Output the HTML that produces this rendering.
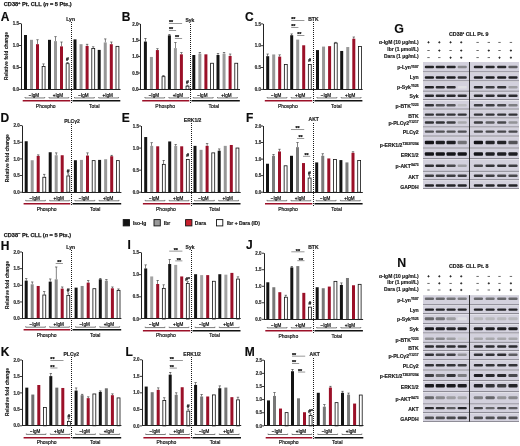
<!DOCTYPE html>
<html><head><meta charset="utf-8"><style>html,body{margin:0;padding:0;background:#fff;width:520px;height:446px;overflow:hidden}svg{display:block}</style></head>
<body>
<svg width="520" height="446" viewBox="0 0 520 446" font-family="'Liberation Sans', Arial, sans-serif">
<rect width="520" height="446" fill="white"/>
<text x="3.80" y="6.30" font-size="5.6" text-anchor="start" font-weight="bold" fill="#161616" stroke="#161616" stroke-width="0.25">CD38<tspan font-size="4.2" dy="-1.9">+</tspan><tspan dy="1.9"> Pt. CLL (</tspan><tspan font-style="italic">n</tspan> = 5 Pts.)</text>
<text x="3.80" y="236.70" font-size="5.55" text-anchor="start" font-weight="bold" fill="#161616" stroke="#161616" stroke-width="0.25">CD38<tspan font-size="4.2" dy="-1.9">&#8722;</tspan><tspan dy="1.9"> Pt. CLL (</tspan><tspan font-style="italic">n</tspan> = 5 Pts.)</text>
<text x="0.70" y="21.20" font-size="12.0" text-anchor="start" font-weight="bold" fill="#0c0c0c" stroke="#0c0c0c" stroke-width="0.15">A</text>
<rect x="21" y="23.60" width="1" height="66.40" fill="#222"/>
<rect x="19" y="88.90" width="2" height="0.9" fill="#222"/>
<text x="18.90" y="90.95" font-size="4.5" text-anchor="end" font-weight="bold" fill="#2a2a2a"  stroke="#2a2a2a" stroke-width="0.18">0.0</text>
<rect x="19" y="66.98" width="2" height="0.9" fill="#222"/>
<text x="18.90" y="69.03" font-size="4.5" text-anchor="end" font-weight="bold" fill="#2a2a2a"  stroke="#2a2a2a" stroke-width="0.18">0.5</text>
<rect x="19" y="45.07" width="2" height="0.9" fill="#222"/>
<text x="18.90" y="47.12" font-size="4.5" text-anchor="end" font-weight="bold" fill="#2a2a2a"  stroke="#2a2a2a" stroke-width="0.18">1.0</text>
<rect x="19" y="23.15" width="2" height="0.9" fill="#222"/>
<text x="18.90" y="25.20" font-size="4.5" text-anchor="end" font-weight="bold" fill="#2a2a2a"  stroke="#2a2a2a" stroke-width="0.18">1.5</text>
<text x="0" y="0" font-size="4.95" font-weight="bold" text-anchor="middle" fill="#1a1a1a" stroke="#1a1a1a" stroke-width="0.12" transform="translate(7.60,56.10) rotate(-90)">Relative fold change</text>
<rect x="24.00" y="35.00" width="3.00" height="54.35" fill="#141414"/>
<rect x="30.00" y="39.82" width="3.00" height="49.53" fill="#979797"/>
<rect x="37.20" y="39.82" width="0.6" height="4.38" fill="#333"/>
<rect x="36.30" y="39.52" width="2.40" height="0.6" fill="#333"/>
<rect x="36.00" y="44.20" width="3.00" height="45.15" fill="#9b1028"/>
<rect x="43.20" y="63.93" width="0.6" height="2.19" fill="#333"/>
<rect x="42.30" y="63.63" width="2.40" height="0.6" fill="#333"/>
<rect x="42.15" y="66.52" width="2.90" height="22.83" fill="white" stroke="#111" stroke-width="0.8"/>
<rect x="48.00" y="39.82" width="3.00" height="49.53" fill="#141414"/>
<rect x="55.20" y="36.75" width="0.6" height="4.38" fill="#333"/>
<rect x="54.30" y="36.45" width="2.40" height="0.6" fill="#333"/>
<rect x="54.00" y="41.13" width="3.00" height="48.22" fill="#979797"/>
<rect x="61.20" y="42.01" width="0.6" height="4.38" fill="#333"/>
<rect x="60.30" y="41.71" width="2.40" height="0.6" fill="#333"/>
<rect x="60.00" y="46.39" width="3.00" height="42.96" fill="#9b1028"/>
<rect x="67.20" y="62.39" width="0.6" height="0.88" fill="#333"/>
<rect x="66.30" y="62.09" width="2.40" height="0.6" fill="#333"/>
<rect x="66.15" y="63.67" width="2.90" height="25.68" fill="white" stroke="#111" stroke-width="0.8"/>
<rect x="73.50" y="39.38" width="3.00" height="49.97" fill="#141414"/>
<rect x="79.55" y="44.20" width="3.00" height="45.15" fill="#979797"/>
<rect x="86.80" y="44.20" width="0.6" height="1.75" fill="#333"/>
<rect x="85.90" y="43.90" width="2.40" height="0.6" fill="#333"/>
<rect x="85.60" y="45.95" width="3.00" height="43.40" fill="#9b1028"/>
<rect x="92.85" y="46.83" width="0.6" height="1.32" fill="#333"/>
<rect x="91.95" y="46.53" width="2.40" height="0.6" fill="#333"/>
<rect x="91.80" y="48.55" width="2.90" height="40.80" fill="white" stroke="#111" stroke-width="0.8"/>
<rect x="97.70" y="49.90" width="3.00" height="39.45" fill="#141414"/>
<rect x="104.95" y="38.94" width="0.6" height="3.51" fill="#333"/>
<rect x="104.05" y="38.64" width="2.40" height="0.6" fill="#333"/>
<rect x="103.75" y="42.45" width="3.00" height="46.90" fill="#979797"/>
<rect x="111.00" y="42.01" width="0.6" height="2.19" fill="#333"/>
<rect x="110.10" y="41.71" width="2.40" height="0.6" fill="#333"/>
<rect x="109.80" y="44.20" width="3.00" height="45.15" fill="#9b1028"/>
<rect x="116.00" y="46.35" width="2.90" height="43.00" fill="white" stroke="#111" stroke-width="0.8"/>
<rect x="21" y="89" width="99.50" height="1" fill="#222"/>
<line x1="71.50" y1="22" x2="71.50" y2="103" stroke="#1a1a1a" stroke-width="1" stroke-dasharray="1,1"/>
<text x="70.60" y="20.70" font-size="5.0" text-anchor="middle" font-weight="bold" fill="#1e1e1e"  stroke="#1e1e1e" stroke-width="0.18">Lyn</text>
<text x="33.95" y="96.65" font-size="4.6" text-anchor="middle" font-weight="normal" fill="#0a0a0a"  stroke="#0a0a0a" stroke-width="0.18">&#8722;IgM</text>
<path d="M25.00,97.05 L25.00,97.95 L44.70,97.95 L44.70,97.05" fill="none" stroke="#444" stroke-width="0.7"/>
<text x="57.95" y="96.65" font-size="4.6" text-anchor="middle" font-weight="normal" fill="#0a0a0a"  stroke="#0a0a0a" stroke-width="0.18">+IgM</text>
<path d="M49.00,97.05 L49.00,97.95 L68.70,97.95 L68.70,97.05" fill="none" stroke="#444" stroke-width="0.7"/>
<text x="83.53" y="96.65" font-size="4.6" text-anchor="middle" font-weight="normal" fill="#0a0a0a"  stroke="#0a0a0a" stroke-width="0.18">&#8722;IgM</text>
<path d="M74.50,97.05 L74.50,97.95 L94.35,97.95 L94.35,97.05" fill="none" stroke="#444" stroke-width="0.7"/>
<text x="107.72" y="96.65" font-size="4.6" text-anchor="middle" font-weight="normal" fill="#0a0a0a"  stroke="#0a0a0a" stroke-width="0.18">+IgM</text>
<path d="M98.70,97.05 L98.70,97.95 L118.55,97.95 L118.55,97.05" fill="none" stroke="#444" stroke-width="0.7"/>
<rect x="22.70" y="100" width="47.60" height="1.5" fill="#9b1028"/>
<text x="45.70" y="107.65" font-size="5.0" text-anchor="middle" font-weight="normal" fill="#161616"  stroke="#161616" stroke-width="0.18">Phospho</text>
<rect x="72.50" y="100" width="47.80" height="1.5" fill="#111"/>
<text x="94.30" y="107.65" font-size="5.0" text-anchor="middle" font-weight="normal" fill="#161616"  stroke="#161616" stroke-width="0.18">Total</text>
<text x="67.50" y="61.37" font-size="5.0" text-anchor="middle" font-weight="bold" fill="#111"  stroke="#111" stroke-width="0.18">#</text>
<text x="121.80" y="21.00" font-size="12.0" text-anchor="start" font-weight="bold" fill="#0c0c0c" stroke="#0c0c0c" stroke-width="0.15">B</text>
<rect x="140" y="23.90" width="1" height="66.10" fill="#222"/>
<rect x="138" y="88.90" width="2" height="0.9" fill="#222"/>
<text x="138.40" y="90.95" font-size="4.5" text-anchor="end" font-weight="bold" fill="#2a2a2a"  stroke="#2a2a2a" stroke-width="0.18">0.0</text>
<rect x="138" y="72.54" width="2" height="0.9" fill="#222"/>
<text x="138.40" y="74.59" font-size="4.5" text-anchor="end" font-weight="bold" fill="#2a2a2a"  stroke="#2a2a2a" stroke-width="0.18">0.5</text>
<rect x="138" y="56.17" width="2" height="0.9" fill="#222"/>
<text x="138.40" y="58.23" font-size="4.5" text-anchor="end" font-weight="bold" fill="#2a2a2a"  stroke="#2a2a2a" stroke-width="0.18">1.0</text>
<rect x="138" y="39.81" width="2" height="0.9" fill="#222"/>
<text x="138.40" y="41.86" font-size="4.5" text-anchor="end" font-weight="bold" fill="#2a2a2a"  stroke="#2a2a2a" stroke-width="0.18">1.5</text>
<rect x="138" y="23.45" width="2" height="0.9" fill="#222"/>
<text x="138.40" y="25.50" font-size="4.5" text-anchor="end" font-weight="bold" fill="#2a2a2a"  stroke="#2a2a2a" stroke-width="0.18">2.0</text>
<rect x="145.10" y="38.30" width="0.6" height="3.27" fill="#333"/>
<rect x="144.20" y="38.00" width="2.40" height="0.6" fill="#333"/>
<rect x="143.90" y="41.57" width="3.00" height="47.78" fill="#141414"/>
<rect x="149.90" y="56.95" width="3.00" height="32.40" fill="#9a9a9a"/>
<rect x="157.10" y="48.77" width="0.6" height="1.31" fill="#333"/>
<rect x="156.20" y="48.47" width="2.40" height="0.6" fill="#333"/>
<rect x="155.90" y="50.08" width="3.00" height="39.27" fill="#9b1028"/>
<rect x="163.10" y="75.61" width="0.6" height="0.65" fill="#333"/>
<rect x="162.20" y="75.31" width="2.40" height="0.6" fill="#333"/>
<rect x="162.05" y="76.66" width="2.90" height="12.69" fill="white" stroke="#111" stroke-width="0.8"/>
<rect x="169.10" y="34.37" width="0.6" height="0.98" fill="#333"/>
<rect x="168.20" y="34.07" width="2.40" height="0.6" fill="#333"/>
<rect x="167.90" y="35.35" width="3.00" height="54.00" fill="#141414"/>
<rect x="175.10" y="42.55" width="0.6" height="5.56" fill="#333"/>
<rect x="174.20" y="42.25" width="2.40" height="0.6" fill="#333"/>
<rect x="173.90" y="48.12" width="3.00" height="41.23" fill="#9a9a9a"/>
<rect x="181.10" y="52.70" width="0.6" height="1.64" fill="#333"/>
<rect x="180.20" y="52.40" width="2.40" height="0.6" fill="#333"/>
<rect x="179.90" y="54.33" width="3.00" height="35.02" fill="#9b1028"/>
<rect x="187.10" y="85.10" width="0.6" height="0.65" fill="#333"/>
<rect x="186.20" y="84.80" width="2.40" height="0.6" fill="#333"/>
<rect x="186.05" y="86.15" width="2.90" height="3.20" fill="white" stroke="#111" stroke-width="0.8"/>
<rect x="192.30" y="54.99" width="3.00" height="34.36" fill="#141414"/>
<rect x="199.55" y="52.37" width="0.6" height="1.31" fill="#333"/>
<rect x="198.65" y="52.07" width="2.40" height="0.6" fill="#333"/>
<rect x="198.35" y="53.68" width="3.00" height="35.67" fill="#9a9a9a"/>
<rect x="204.40" y="54.33" width="3.00" height="35.02" fill="#9b1028"/>
<rect x="210.60" y="63.24" width="2.90" height="26.11" fill="white" stroke="#111" stroke-width="0.8"/>
<rect x="217.70" y="53.35" width="0.6" height="1.64" fill="#333"/>
<rect x="216.80" y="53.05" width="2.40" height="0.6" fill="#333"/>
<rect x="216.50" y="54.99" width="3.00" height="34.36" fill="#141414"/>
<rect x="223.75" y="52.37" width="0.6" height="1.31" fill="#333"/>
<rect x="222.85" y="52.07" width="2.40" height="0.6" fill="#333"/>
<rect x="222.55" y="53.68" width="3.00" height="35.67" fill="#9a9a9a"/>
<rect x="229.80" y="54.01" width="0.6" height="1.96" fill="#333"/>
<rect x="228.90" y="53.71" width="2.40" height="0.6" fill="#333"/>
<rect x="228.60" y="55.97" width="3.00" height="33.38" fill="#9b1028"/>
<rect x="234.80" y="63.24" width="2.90" height="26.11" fill="white" stroke="#111" stroke-width="0.8"/>
<rect x="140" y="89" width="100.00" height="1" fill="#222"/>
<line x1="190.50" y1="24" x2="190.50" y2="103" stroke="#1a1a1a" stroke-width="1" stroke-dasharray="1,1"/>
<text x="189.90" y="22.00" font-size="5.0" text-anchor="middle" font-weight="bold" fill="#1e1e1e"  stroke="#1e1e1e" stroke-width="0.18">Syk</text>
<text x="153.85" y="96.65" font-size="4.6" text-anchor="middle" font-weight="normal" fill="#0a0a0a"  stroke="#0a0a0a" stroke-width="0.18">&#8722;IgM</text>
<path d="M144.90,97.05 L144.90,97.95 L164.60,97.95 L164.60,97.05" fill="none" stroke="#444" stroke-width="0.7"/>
<text x="177.85" y="96.65" font-size="4.6" text-anchor="middle" font-weight="normal" fill="#0a0a0a"  stroke="#0a0a0a" stroke-width="0.18">+IgM</text>
<path d="M168.90,97.05 L168.90,97.95 L188.60,97.95 L188.60,97.05" fill="none" stroke="#444" stroke-width="0.7"/>
<text x="202.33" y="96.65" font-size="4.6" text-anchor="middle" font-weight="normal" fill="#0a0a0a"  stroke="#0a0a0a" stroke-width="0.18">&#8722;IgM</text>
<path d="M193.30,97.05 L193.30,97.95 L213.15,97.95 L213.15,97.05" fill="none" stroke="#444" stroke-width="0.7"/>
<text x="226.53" y="96.65" font-size="4.6" text-anchor="middle" font-weight="normal" fill="#0a0a0a"  stroke="#0a0a0a" stroke-width="0.18">+IgM</text>
<path d="M217.50,97.05 L217.50,97.95 L237.35,97.95 L237.35,97.05" fill="none" stroke="#444" stroke-width="0.7"/>
<rect x="142.20" y="100" width="47.10" height="1.5" fill="#9b1028"/>
<text x="165.20" y="107.65" font-size="5.0" text-anchor="middle" font-weight="normal" fill="#161616"  stroke="#161616" stroke-width="0.18">Phospho</text>
<rect x="191.50" y="100" width="48.30" height="1.5" fill="#111"/>
<text x="213.80" y="107.65" font-size="5.0" text-anchor="middle" font-weight="normal" fill="#161616"  stroke="#161616" stroke-width="0.18">Total</text>
<rect x="168.90" y="23.27" width="13.20" height="0.6" fill="#555"/>
<text x="168.90" y="24.27" font-size="5.4" text-anchor="start" font-weight="bold" fill="#000"  stroke="#000" stroke-width="0.18">**</text>
<rect x="168.90" y="30.14" width="7.20" height="0.6" fill="#555"/>
<text x="168.90" y="31.14" font-size="5.4" text-anchor="start" font-weight="bold" fill="#000"  stroke="#000" stroke-width="0.18">**</text>
<rect x="174.90" y="38.13" width="7.20" height="0.6" fill="#555"/>
<text x="174.90" y="39.13" font-size="5.4" text-anchor="start" font-weight="bold" fill="#000"  stroke="#000" stroke-width="0.18">**</text>
<text x="187.40" y="83.85" font-size="5.0" text-anchor="middle" font-weight="bold" fill="#111"  stroke="#111" stroke-width="0.18">#</text>
<text x="245.00" y="21.20" font-size="12.0" text-anchor="start" font-weight="bold" fill="#0c0c0c" stroke="#0c0c0c" stroke-width="0.15">C</text>
<rect x="263" y="23.90" width="1" height="66.10" fill="#222"/>
<rect x="261" y="88.90" width="2" height="0.9" fill="#222"/>
<text x="261.00" y="90.95" font-size="4.5" text-anchor="end" font-weight="bold" fill="#2a2a2a"  stroke="#2a2a2a" stroke-width="0.18">0.0</text>
<rect x="261" y="67.08" width="2" height="0.9" fill="#222"/>
<text x="261.00" y="69.13" font-size="4.5" text-anchor="end" font-weight="bold" fill="#2a2a2a"  stroke="#2a2a2a" stroke-width="0.18">0.5</text>
<rect x="261" y="45.27" width="2" height="0.9" fill="#222"/>
<text x="261.00" y="47.32" font-size="4.5" text-anchor="end" font-weight="bold" fill="#2a2a2a"  stroke="#2a2a2a" stroke-width="0.18">1.0</text>
<rect x="261" y="23.45" width="2" height="0.9" fill="#222"/>
<text x="261.00" y="25.50" font-size="4.5" text-anchor="end" font-weight="bold" fill="#2a2a2a"  stroke="#2a2a2a" stroke-width="0.18">1.5</text>
<rect x="267.40" y="54.01" width="0.6" height="2.18" fill="#333"/>
<rect x="266.50" y="53.71" width="2.40" height="0.6" fill="#333"/>
<rect x="266.20" y="56.19" width="3.00" height="33.16" fill="#141414"/>
<rect x="272.20" y="54.44" width="3.00" height="34.91" fill="#989898"/>
<rect x="279.40" y="54.88" width="0.6" height="1.75" fill="#333"/>
<rect x="278.50" y="54.58" width="2.40" height="0.6" fill="#333"/>
<rect x="278.20" y="56.62" width="3.00" height="32.72" fill="#9b1028"/>
<rect x="284.35" y="64.44" width="2.90" height="24.91" fill="white" stroke="#111" stroke-width="0.8"/>
<rect x="291.40" y="33.94" width="0.6" height="1.31" fill="#333"/>
<rect x="290.50" y="33.64" width="2.40" height="0.6" fill="#333"/>
<rect x="290.20" y="35.24" width="3.00" height="54.11" fill="#141414"/>
<rect x="296.20" y="39.61" width="3.00" height="49.74" fill="#989898"/>
<rect x="302.20" y="45.28" width="3.00" height="44.07" fill="#9b1028"/>
<rect x="308.35" y="64.44" width="2.90" height="24.91" fill="white" stroke="#111" stroke-width="0.8"/>
<rect x="316.00" y="50.08" width="3.00" height="39.27" fill="#141414"/>
<rect x="322.05" y="46.59" width="3.00" height="42.76" fill="#989898"/>
<rect x="328.10" y="46.15" width="3.00" height="43.20" fill="#9b1028"/>
<rect x="335.35" y="42.23" width="0.6" height="0.44" fill="#333"/>
<rect x="334.45" y="41.93" width="2.40" height="0.6" fill="#333"/>
<rect x="334.30" y="43.06" width="2.90" height="46.29" fill="white" stroke="#111" stroke-width="0.8"/>
<rect x="340.20" y="50.95" width="3.00" height="38.40" fill="#141414"/>
<rect x="346.25" y="47.03" width="3.00" height="42.32" fill="#989898"/>
<rect x="353.50" y="36.99" width="0.6" height="1.75" fill="#333"/>
<rect x="352.60" y="36.69" width="2.40" height="0.6" fill="#333"/>
<rect x="352.30" y="38.74" width="3.00" height="50.61" fill="#9b1028"/>
<rect x="358.50" y="46.55" width="2.90" height="42.80" fill="white" stroke="#111" stroke-width="0.8"/>
<rect x="263" y="89" width="99.60" height="1" fill="#222"/>
<line x1="313.50" y1="22" x2="313.50" y2="103" stroke="#1a1a1a" stroke-width="1" stroke-dasharray="1,1"/>
<text x="313.40" y="20.70" font-size="5.0" text-anchor="middle" font-weight="bold" fill="#1e1e1e"  stroke="#1e1e1e" stroke-width="0.18">BTK</text>
<text x="276.15" y="96.65" font-size="4.6" text-anchor="middle" font-weight="normal" fill="#0a0a0a"  stroke="#0a0a0a" stroke-width="0.18">&#8722;IgM</text>
<path d="M267.20,97.05 L267.20,97.95 L286.90,97.95 L286.90,97.05" fill="none" stroke="#444" stroke-width="0.7"/>
<text x="300.15" y="96.65" font-size="4.6" text-anchor="middle" font-weight="normal" fill="#0a0a0a"  stroke="#0a0a0a" stroke-width="0.18">+IgM</text>
<path d="M291.20,97.05 L291.20,97.95 L310.90,97.95 L310.90,97.05" fill="none" stroke="#444" stroke-width="0.7"/>
<text x="326.02" y="96.65" font-size="4.6" text-anchor="middle" font-weight="normal" fill="#0a0a0a"  stroke="#0a0a0a" stroke-width="0.18">&#8722;IgM</text>
<path d="M317.00,97.05 L317.00,97.95 L336.85,97.95 L336.85,97.05" fill="none" stroke="#444" stroke-width="0.7"/>
<text x="350.23" y="96.65" font-size="4.6" text-anchor="middle" font-weight="normal" fill="#0a0a0a"  stroke="#0a0a0a" stroke-width="0.18">+IgM</text>
<path d="M341.20,97.05 L341.20,97.95 L361.05,97.95 L361.05,97.05" fill="none" stroke="#444" stroke-width="0.7"/>
<rect x="264.80" y="100" width="47.50" height="1.5" fill="#9b1028"/>
<text x="287.80" y="107.65" font-size="5.0" text-anchor="middle" font-weight="normal" fill="#161616"  stroke="#161616" stroke-width="0.18">Phospho</text>
<rect x="314.50" y="100" width="47.90" height="1.5" fill="#111"/>
<text x="336.40" y="107.65" font-size="5.0" text-anchor="middle" font-weight="normal" fill="#161616"  stroke="#161616" stroke-width="0.18">Total</text>
<rect x="291.20" y="20.20" width="13.20" height="0.6" fill="#555"/>
<text x="291.20" y="21.20" font-size="5.4" text-anchor="start" font-weight="bold" fill="#000"  stroke="#000" stroke-width="0.18">**</text>
<rect x="291.20" y="27.18" width="7.20" height="0.6" fill="#555"/>
<text x="291.20" y="28.18" font-size="5.4" text-anchor="start" font-weight="bold" fill="#000"  stroke="#000" stroke-width="0.18">**</text>
<rect x="297.20" y="35.38" width="7.20" height="0.6" fill="#555"/>
<text x="297.20" y="36.38" font-size="5.4" text-anchor="start" font-weight="bold" fill="#000"  stroke="#000" stroke-width="0.18">**</text>
<text x="309.70" y="62.14" font-size="5.0" text-anchor="middle" font-weight="bold" fill="#111"  stroke="#111" stroke-width="0.18">#</text>
<text x="0.50" y="122.00" font-size="12.0" text-anchor="start" font-weight="bold" fill="#0c0c0c" stroke="#0c0c0c" stroke-width="0.15">D</text>
<rect x="22" y="125.60" width="1" height="67.40" fill="#222"/>
<rect x="20" y="191.75" width="2" height="0.9" fill="#222"/>
<text x="19.80" y="193.80" font-size="4.5" text-anchor="end" font-weight="bold" fill="#2a2a2a"  stroke="#2a2a2a" stroke-width="0.18">0.0</text>
<rect x="20" y="175.10" width="2" height="0.9" fill="#222"/>
<text x="19.80" y="177.15" font-size="4.5" text-anchor="end" font-weight="bold" fill="#2a2a2a"  stroke="#2a2a2a" stroke-width="0.18">0.5</text>
<rect x="20" y="158.45" width="2" height="0.9" fill="#222"/>
<text x="19.80" y="160.50" font-size="4.5" text-anchor="end" font-weight="bold" fill="#2a2a2a"  stroke="#2a2a2a" stroke-width="0.18">1.0</text>
<rect x="20" y="141.80" width="2" height="0.9" fill="#222"/>
<text x="19.80" y="143.85" font-size="4.5" text-anchor="end" font-weight="bold" fill="#2a2a2a"  stroke="#2a2a2a" stroke-width="0.18">1.5</text>
<rect x="20" y="125.15" width="2" height="0.9" fill="#222"/>
<text x="19.80" y="127.20" font-size="4.5" text-anchor="end" font-weight="bold" fill="#2a2a2a"  stroke="#2a2a2a" stroke-width="0.18">2.0</text>
<text x="0" y="0" font-size="4.95" font-weight="bold" text-anchor="middle" fill="#1a1a1a" stroke="#1a1a1a" stroke-width="0.12" transform="translate(8.50,158.20) rotate(-90)">Relative fold change</text>
<rect x="24.70" y="141.25" width="3.00" height="50.95" fill="#141414"/>
<rect x="30.70" y="160.23" width="3.00" height="31.97" fill="#999999"/>
<rect x="37.90" y="154.90" width="0.6" height="1.00" fill="#333"/>
<rect x="37.00" y="154.60" width="2.40" height="0.6" fill="#333"/>
<rect x="36.70" y="155.90" width="3.00" height="36.30" fill="#9b1028"/>
<rect x="43.90" y="174.22" width="0.6" height="2.66" fill="#333"/>
<rect x="43.00" y="173.92" width="2.40" height="0.6" fill="#333"/>
<rect x="42.85" y="177.28" width="2.90" height="14.92" fill="white" stroke="#111" stroke-width="0.8"/>
<rect x="48.70" y="152.24" width="3.00" height="39.96" fill="#141414"/>
<rect x="55.90" y="152.91" width="0.6" height="2.33" fill="#333"/>
<rect x="55.00" y="152.61" width="2.40" height="0.6" fill="#333"/>
<rect x="54.70" y="155.24" width="3.00" height="36.96" fill="#999999"/>
<rect x="60.70" y="155.24" width="3.00" height="36.96" fill="#9b1028"/>
<rect x="67.90" y="173.88" width="0.6" height="1.66" fill="#333"/>
<rect x="67.00" y="173.58" width="2.40" height="0.6" fill="#333"/>
<rect x="66.85" y="175.95" width="2.90" height="16.25" fill="white" stroke="#111" stroke-width="0.8"/>
<rect x="73.90" y="160.23" width="3.00" height="31.97" fill="#141414"/>
<rect x="79.95" y="159.90" width="3.00" height="32.30" fill="#999999"/>
<rect x="87.20" y="152.91" width="0.6" height="2.66" fill="#333"/>
<rect x="86.30" y="152.61" width="2.40" height="0.6" fill="#333"/>
<rect x="86.00" y="155.57" width="3.00" height="36.63" fill="#9b1028"/>
<rect x="92.20" y="160.63" width="2.90" height="31.57" fill="white" stroke="#111" stroke-width="0.8"/>
<rect x="98.10" y="159.90" width="3.00" height="32.30" fill="#141414"/>
<rect x="104.15" y="159.23" width="3.00" height="32.97" fill="#999999"/>
<rect x="111.40" y="155.24" width="0.6" height="1.00" fill="#333"/>
<rect x="110.50" y="154.94" width="2.40" height="0.6" fill="#333"/>
<rect x="110.20" y="156.24" width="3.00" height="35.96" fill="#9b1028"/>
<rect x="116.40" y="160.63" width="2.90" height="31.57" fill="white" stroke="#111" stroke-width="0.8"/>
<rect x="22" y="192" width="99.40" height="1" fill="#222"/>
<line x1="71.50" y1="124" x2="71.50" y2="206" stroke="#1a1a1a" stroke-width="1" stroke-dasharray="1,1"/>
<text x="72.00" y="122.70" font-size="5.0" text-anchor="middle" font-weight="bold" fill="#1e1e1e"  stroke="#1e1e1e" stroke-width="0.18">PLC&#947;2</text>
<text x="34.65" y="199.50" font-size="4.6" text-anchor="middle" font-weight="normal" fill="#0a0a0a"  stroke="#0a0a0a" stroke-width="0.18">&#8722;IgM</text>
<path d="M25.70,199.90 L25.70,200.80 L45.40,200.80 L45.40,199.90" fill="none" stroke="#444" stroke-width="0.7"/>
<text x="58.65" y="199.50" font-size="4.6" text-anchor="middle" font-weight="normal" fill="#0a0a0a"  stroke="#0a0a0a" stroke-width="0.18">+IgM</text>
<path d="M49.70,199.90 L49.70,200.80 L69.40,200.80 L69.40,199.90" fill="none" stroke="#444" stroke-width="0.7"/>
<text x="83.93" y="199.50" font-size="4.6" text-anchor="middle" font-weight="normal" fill="#0a0a0a"  stroke="#0a0a0a" stroke-width="0.18">&#8722;IgM</text>
<path d="M74.90,199.90 L74.90,200.80 L94.75,200.80 L94.75,199.90" fill="none" stroke="#444" stroke-width="0.7"/>
<text x="108.12" y="199.50" font-size="4.6" text-anchor="middle" font-weight="normal" fill="#0a0a0a"  stroke="#0a0a0a" stroke-width="0.18">+IgM</text>
<path d="M99.10,199.90 L99.10,200.80 L118.95,200.80 L118.95,199.90" fill="none" stroke="#444" stroke-width="0.7"/>
<rect x="23.60" y="203" width="46.70" height="1.5" fill="#9b1028"/>
<text x="46.60" y="210.50" font-size="5.0" text-anchor="middle" font-weight="normal" fill="#161616"  stroke="#161616" stroke-width="0.18">Phospho</text>
<rect x="72.50" y="203" width="48.70" height="1.5" fill="#111"/>
<text x="95.20" y="210.50" font-size="5.0" text-anchor="middle" font-weight="normal" fill="#161616"  stroke="#161616" stroke-width="0.18">Total</text>
<text x="68.20" y="172.88" font-size="5.0" text-anchor="middle" font-weight="bold" fill="#111"  stroke="#111" stroke-width="0.18">#</text>
<text x="121.80" y="122.40" font-size="12.0" text-anchor="start" font-weight="bold" fill="#0c0c0c" stroke="#0c0c0c" stroke-width="0.15">E</text>
<rect x="141" y="126.00" width="1" height="67.00" fill="#222"/>
<rect x="139" y="191.75" width="2" height="0.9" fill="#222"/>
<text x="139.10" y="193.80" font-size="4.5" text-anchor="end" font-weight="bold" fill="#2a2a2a"  stroke="#2a2a2a" stroke-width="0.18">0.0</text>
<rect x="139" y="169.68" width="2" height="0.9" fill="#222"/>
<text x="139.10" y="171.73" font-size="4.5" text-anchor="end" font-weight="bold" fill="#2a2a2a"  stroke="#2a2a2a" stroke-width="0.18">0.5</text>
<rect x="139" y="147.62" width="2" height="0.9" fill="#222"/>
<text x="139.10" y="149.67" font-size="4.5" text-anchor="end" font-weight="bold" fill="#2a2a2a"  stroke="#2a2a2a" stroke-width="0.18">1.0</text>
<rect x="139" y="125.55" width="2" height="0.9" fill="#222"/>
<text x="139.10" y="127.60" font-size="4.5" text-anchor="end" font-weight="bold" fill="#2a2a2a"  stroke="#2a2a2a" stroke-width="0.18">1.5</text>
<rect x="144.20" y="137.03" width="3.00" height="55.17" fill="#141414"/>
<rect x="151.40" y="142.77" width="0.6" height="3.09" fill="#333"/>
<rect x="150.50" y="142.47" width="2.40" height="0.6" fill="#333"/>
<rect x="150.20" y="145.86" width="3.00" height="46.34" fill="#979797"/>
<rect x="156.20" y="146.30" width="3.00" height="45.90" fill="#9b1028"/>
<rect x="163.40" y="160.42" width="0.6" height="3.53" fill="#333"/>
<rect x="162.50" y="160.12" width="2.40" height="0.6" fill="#333"/>
<rect x="162.35" y="164.35" width="2.90" height="27.85" fill="white" stroke="#111" stroke-width="0.8"/>
<rect x="168.20" y="141.45" width="3.00" height="50.75" fill="#141414"/>
<rect x="175.40" y="144.54" width="0.6" height="1.32" fill="#333"/>
<rect x="174.50" y="144.24" width="2.40" height="0.6" fill="#333"/>
<rect x="174.20" y="145.86" width="3.00" height="46.34" fill="#979797"/>
<rect x="180.20" y="146.30" width="3.00" height="45.90" fill="#9b1028"/>
<rect x="186.35" y="159.50" width="2.90" height="32.70" fill="white" stroke="#111" stroke-width="0.8"/>
<rect x="193.50" y="145.86" width="3.00" height="46.34" fill="#141414"/>
<rect x="199.55" y="149.83" width="3.00" height="42.37" fill="#979797"/>
<rect x="206.80" y="143.65" width="0.6" height="2.21" fill="#333"/>
<rect x="205.90" y="143.35" width="2.40" height="0.6" fill="#333"/>
<rect x="205.60" y="145.86" width="3.00" height="46.34" fill="#9b1028"/>
<rect x="211.80" y="152.88" width="2.90" height="39.32" fill="white" stroke="#111" stroke-width="0.8"/>
<rect x="218.90" y="148.95" width="0.6" height="1.77" fill="#333"/>
<rect x="218.00" y="148.65" width="2.40" height="0.6" fill="#333"/>
<rect x="217.70" y="150.71" width="3.00" height="41.49" fill="#141414"/>
<rect x="223.75" y="145.86" width="3.00" height="46.34" fill="#979797"/>
<rect x="229.80" y="144.98" width="3.00" height="47.22" fill="#9b1028"/>
<rect x="236.00" y="148.03" width="2.90" height="44.17" fill="white" stroke="#111" stroke-width="0.8"/>
<rect x="141" y="192" width="99.70" height="1" fill="#222"/>
<line x1="191.50" y1="123" x2="191.50" y2="206" stroke="#1a1a1a" stroke-width="1" stroke-dasharray="1,1"/>
<text x="192.60" y="121.80" font-size="5.0" text-anchor="middle" font-weight="bold" fill="#1e1e1e"  stroke="#1e1e1e" stroke-width="0.18">ERK1/2</text>
<text x="154.15" y="199.50" font-size="4.6" text-anchor="middle" font-weight="normal" fill="#0a0a0a"  stroke="#0a0a0a" stroke-width="0.18">&#8722;IgM</text>
<path d="M145.20,199.90 L145.20,200.80 L164.90,200.80 L164.90,199.90" fill="none" stroke="#444" stroke-width="0.7"/>
<text x="178.15" y="199.50" font-size="4.6" text-anchor="middle" font-weight="normal" fill="#0a0a0a"  stroke="#0a0a0a" stroke-width="0.18">+IgM</text>
<path d="M169.20,199.90 L169.20,200.80 L188.90,200.80 L188.90,199.90" fill="none" stroke="#444" stroke-width="0.7"/>
<text x="203.53" y="199.50" font-size="4.6" text-anchor="middle" font-weight="normal" fill="#0a0a0a"  stroke="#0a0a0a" stroke-width="0.18">&#8722;IgM</text>
<path d="M194.50,199.90 L194.50,200.80 L214.35,200.80 L214.35,199.90" fill="none" stroke="#444" stroke-width="0.7"/>
<text x="227.72" y="199.50" font-size="4.6" text-anchor="middle" font-weight="normal" fill="#0a0a0a"  stroke="#0a0a0a" stroke-width="0.18">+IgM</text>
<path d="M218.70,199.90 L218.70,200.80 L238.55,200.80 L238.55,199.90" fill="none" stroke="#444" stroke-width="0.7"/>
<rect x="142.90" y="203" width="47.40" height="1.5" fill="#9b1028"/>
<text x="165.90" y="210.50" font-size="5.0" text-anchor="middle" font-weight="normal" fill="#161616"  stroke="#161616" stroke-width="0.18">Phospho</text>
<rect x="192.50" y="203" width="48.00" height="1.5" fill="#111"/>
<text x="214.50" y="210.50" font-size="5.0" text-anchor="middle" font-weight="normal" fill="#161616"  stroke="#161616" stroke-width="0.18">Total</text>
<text x="187.70" y="157.20" font-size="5.0" text-anchor="middle" font-weight="bold" fill="#111"  stroke="#111" stroke-width="0.18">#</text>
<text x="246.10" y="122.40" font-size="12.0" text-anchor="start" font-weight="bold" fill="#0c0c0c" stroke="#0c0c0c" stroke-width="0.15">F</text>
<rect x="263" y="126.00" width="1" height="67.00" fill="#222"/>
<rect x="261" y="191.75" width="2" height="0.9" fill="#222"/>
<text x="261.20" y="193.80" font-size="4.5" text-anchor="end" font-weight="bold" fill="#2a2a2a"  stroke="#2a2a2a" stroke-width="0.18">0.0</text>
<rect x="261" y="175.20" width="2" height="0.9" fill="#222"/>
<text x="261.20" y="177.25" font-size="4.5" text-anchor="end" font-weight="bold" fill="#2a2a2a"  stroke="#2a2a2a" stroke-width="0.18">0.5</text>
<rect x="261" y="158.65" width="2" height="0.9" fill="#222"/>
<text x="261.20" y="160.70" font-size="4.5" text-anchor="end" font-weight="bold" fill="#2a2a2a"  stroke="#2a2a2a" stroke-width="0.18">1.0</text>
<rect x="261" y="142.10" width="2" height="0.9" fill="#222"/>
<text x="261.20" y="144.15" font-size="4.5" text-anchor="end" font-weight="bold" fill="#2a2a2a"  stroke="#2a2a2a" stroke-width="0.18">1.5</text>
<rect x="261" y="125.55" width="2" height="0.9" fill="#222"/>
<text x="261.20" y="127.60" font-size="4.5" text-anchor="end" font-weight="bold" fill="#2a2a2a"  stroke="#2a2a2a" stroke-width="0.18">2.0</text>
<rect x="266.00" y="163.73" width="3.00" height="28.47" fill="#141414"/>
<rect x="273.20" y="154.47" width="0.6" height="1.32" fill="#333"/>
<rect x="272.30" y="154.17" width="2.40" height="0.6" fill="#333"/>
<rect x="272.00" y="155.79" width="3.00" height="36.41" fill="#7a7a7a"/>
<rect x="279.20" y="149.17" width="0.6" height="2.32" fill="#333"/>
<rect x="278.30" y="148.87" width="2.40" height="0.6" fill="#333"/>
<rect x="278.00" y="151.49" width="3.00" height="40.71" fill="#9b1028"/>
<rect x="284.15" y="165.79" width="2.90" height="26.41" fill="white" stroke="#111" stroke-width="0.8"/>
<rect x="290.00" y="155.79" width="3.00" height="36.41" fill="#141414"/>
<rect x="297.20" y="142.55" width="0.6" height="4.63" fill="#333"/>
<rect x="296.30" y="142.25" width="2.40" height="0.6" fill="#333"/>
<rect x="296.00" y="147.18" width="3.00" height="45.02" fill="#7a7a7a"/>
<rect x="302.00" y="163.07" width="3.00" height="29.13" fill="#9b1028"/>
<rect x="309.20" y="175.65" width="0.6" height="1.99" fill="#333"/>
<rect x="308.30" y="175.35" width="2.40" height="0.6" fill="#333"/>
<rect x="308.15" y="178.04" width="2.90" height="14.16" fill="white" stroke="#111" stroke-width="0.8"/>
<rect x="315.20" y="162.41" width="3.00" height="29.79" fill="#141414"/>
<rect x="322.45" y="153.80" width="0.6" height="1.99" fill="#333"/>
<rect x="321.55" y="153.50" width="2.40" height="0.6" fill="#333"/>
<rect x="321.25" y="155.79" width="3.00" height="36.41" fill="#7a7a7a"/>
<rect x="327.30" y="158.44" width="3.00" height="33.76" fill="#9b1028"/>
<rect x="333.50" y="159.50" width="2.90" height="32.70" fill="white" stroke="#111" stroke-width="0.8"/>
<rect x="339.40" y="160.09" width="3.00" height="32.11" fill="#141414"/>
<rect x="345.45" y="162.41" width="3.00" height="29.79" fill="#7a7a7a"/>
<rect x="352.70" y="151.82" width="0.6" height="0.99" fill="#333"/>
<rect x="351.80" y="151.52" width="2.40" height="0.6" fill="#333"/>
<rect x="351.50" y="152.81" width="3.00" height="39.39" fill="#9b1028"/>
<rect x="357.70" y="160.49" width="2.90" height="31.71" fill="white" stroke="#111" stroke-width="0.8"/>
<rect x="263" y="192" width="99.80" height="1" fill="#222"/>
<line x1="313.50" y1="123" x2="313.50" y2="206" stroke="#1a1a1a" stroke-width="1" stroke-dasharray="1,1"/>
<text x="313.70" y="121.30" font-size="5.0" text-anchor="middle" font-weight="bold" fill="#1e1e1e"  stroke="#1e1e1e" stroke-width="0.18">AKT</text>
<text x="275.95" y="199.50" font-size="4.6" text-anchor="middle" font-weight="normal" fill="#0a0a0a"  stroke="#0a0a0a" stroke-width="0.18">&#8722;IgM</text>
<path d="M267.00,199.90 L267.00,200.80 L286.70,200.80 L286.70,199.90" fill="none" stroke="#444" stroke-width="0.7"/>
<text x="299.95" y="199.50" font-size="4.6" text-anchor="middle" font-weight="normal" fill="#0a0a0a"  stroke="#0a0a0a" stroke-width="0.18">+IgM</text>
<path d="M291.00,199.90 L291.00,200.80 L310.70,200.80 L310.70,199.90" fill="none" stroke="#444" stroke-width="0.7"/>
<text x="325.23" y="199.50" font-size="4.6" text-anchor="middle" font-weight="normal" fill="#0a0a0a"  stroke="#0a0a0a" stroke-width="0.18">&#8722;IgM</text>
<path d="M316.20,199.90 L316.20,200.80 L336.05,200.80 L336.05,199.90" fill="none" stroke="#444" stroke-width="0.7"/>
<text x="349.43" y="199.50" font-size="4.6" text-anchor="middle" font-weight="normal" fill="#0a0a0a"  stroke="#0a0a0a" stroke-width="0.18">+IgM</text>
<path d="M340.40,199.90 L340.40,200.80 L360.25,200.80 L360.25,199.90" fill="none" stroke="#444" stroke-width="0.7"/>
<rect x="265.00" y="203" width="47.30" height="1.5" fill="#9b1028"/>
<text x="288.00" y="210.50" font-size="5.0" text-anchor="middle" font-weight="normal" fill="#161616"  stroke="#161616" stroke-width="0.18">Phospho</text>
<rect x="314.50" y="203" width="48.10" height="1.5" fill="#111"/>
<text x="336.60" y="210.50" font-size="5.0" text-anchor="middle" font-weight="normal" fill="#161616"  stroke="#161616" stroke-width="0.18">Total</text>
<rect x="291.00" y="129.41" width="13.20" height="0.6" fill="#555"/>
<text x="297.60" y="130.41" font-size="5.4" text-anchor="middle" font-weight="bold" fill="#000"  stroke="#000" stroke-width="0.18">**</text>
<rect x="297.00" y="138.01" width="7.20" height="0.6" fill="#555"/>
<text x="300.60" y="139.01" font-size="5.4" text-anchor="middle" font-weight="bold" fill="#000"  stroke="#000" stroke-width="0.18">**</text>
<rect x="303.00" y="155.89" width="7.20" height="0.6" fill="#555"/>
<text x="306.60" y="156.89" font-size="5.4" text-anchor="middle" font-weight="bold" fill="#000"  stroke="#000" stroke-width="0.18">**</text>
<text x="309.50" y="174.65" font-size="5.0" text-anchor="middle" font-weight="bold" fill="#111"  stroke="#111" stroke-width="0.18">#</text>
<text x="0.70" y="249.50" font-size="12.0" text-anchor="start" font-weight="bold" fill="#0c0c0c" stroke="#0c0c0c" stroke-width="0.15">H</text>
<rect x="22" y="252.00" width="1" height="67.00" fill="#222"/>
<rect x="20" y="318.15" width="2" height="0.9" fill="#222"/>
<text x="19.80" y="320.20" font-size="4.5" text-anchor="end" font-weight="bold" fill="#2a2a2a"  stroke="#2a2a2a" stroke-width="0.18">0.0</text>
<rect x="20" y="301.50" width="2" height="0.9" fill="#222"/>
<text x="19.80" y="303.55" font-size="4.5" text-anchor="end" font-weight="bold" fill="#2a2a2a"  stroke="#2a2a2a" stroke-width="0.18">0.5</text>
<rect x="20" y="284.85" width="2" height="0.9" fill="#222"/>
<text x="19.80" y="286.90" font-size="4.5" text-anchor="end" font-weight="bold" fill="#2a2a2a"  stroke="#2a2a2a" stroke-width="0.18">1.0</text>
<rect x="20" y="268.20" width="2" height="0.9" fill="#222"/>
<text x="19.80" y="270.25" font-size="4.5" text-anchor="end" font-weight="bold" fill="#2a2a2a"  stroke="#2a2a2a" stroke-width="0.18">1.5</text>
<rect x="20" y="251.55" width="2" height="0.9" fill="#222"/>
<text x="19.80" y="253.60" font-size="4.5" text-anchor="end" font-weight="bold" fill="#2a2a2a"  stroke="#2a2a2a" stroke-width="0.18">2.0</text>
<text x="0" y="0" font-size="4.95" font-weight="bold" text-anchor="middle" fill="#1a1a1a" stroke="#1a1a1a" stroke-width="0.12" transform="translate(8.50,285.00) rotate(-90)">Relative fold change</text>
<rect x="25.90" y="278.64" width="0.6" height="2.00" fill="#333"/>
<rect x="25.00" y="278.34" width="2.40" height="0.6" fill="#333"/>
<rect x="24.70" y="280.64" width="3.00" height="37.96" fill="#141414"/>
<rect x="31.90" y="281.97" width="0.6" height="2.33" fill="#333"/>
<rect x="31.00" y="281.67" width="2.40" height="0.6" fill="#333"/>
<rect x="30.70" y="284.30" width="3.00" height="34.30" fill="#888888"/>
<rect x="36.70" y="285.97" width="3.00" height="32.63" fill="#9b1028"/>
<rect x="43.90" y="291.63" width="0.6" height="3.00" fill="#333"/>
<rect x="43.00" y="291.33" width="2.40" height="0.6" fill="#333"/>
<rect x="42.85" y="295.02" width="2.90" height="23.58" fill="white" stroke="#111" stroke-width="0.8"/>
<rect x="49.90" y="278.97" width="0.6" height="2.66" fill="#333"/>
<rect x="49.00" y="278.67" width="2.40" height="0.6" fill="#333"/>
<rect x="48.70" y="281.64" width="3.00" height="36.96" fill="#141414"/>
<rect x="55.90" y="266.99" width="0.6" height="12.32" fill="#333"/>
<rect x="55.00" y="266.69" width="2.40" height="0.6" fill="#333"/>
<rect x="54.70" y="279.31" width="3.00" height="39.29" fill="#888888"/>
<rect x="61.90" y="286.97" width="0.6" height="1.66" fill="#333"/>
<rect x="61.00" y="286.67" width="2.40" height="0.6" fill="#333"/>
<rect x="60.70" y="288.63" width="3.00" height="29.97" fill="#9b1028"/>
<rect x="67.90" y="292.96" width="0.6" height="2.00" fill="#333"/>
<rect x="67.00" y="292.66" width="2.40" height="0.6" fill="#333"/>
<rect x="66.85" y="295.36" width="2.90" height="23.24" fill="white" stroke="#111" stroke-width="0.8"/>
<rect x="74.60" y="287.63" width="3.00" height="30.97" fill="#141414"/>
<rect x="80.65" y="285.97" width="3.00" height="32.63" fill="#888888"/>
<rect x="87.90" y="280.64" width="0.6" height="2.00" fill="#333"/>
<rect x="87.00" y="280.34" width="2.40" height="0.6" fill="#333"/>
<rect x="86.70" y="282.64" width="3.00" height="35.96" fill="#9b1028"/>
<rect x="92.90" y="288.70" width="2.90" height="29.90" fill="white" stroke="#111" stroke-width="0.8"/>
<rect x="100.00" y="278.31" width="0.6" height="1.00" fill="#333"/>
<rect x="99.10" y="278.01" width="2.40" height="0.6" fill="#333"/>
<rect x="98.80" y="279.31" width="3.00" height="39.29" fill="#141414"/>
<rect x="106.05" y="279.64" width="0.6" height="1.00" fill="#333"/>
<rect x="105.15" y="279.34" width="2.40" height="0.6" fill="#333"/>
<rect x="104.85" y="280.64" width="3.00" height="37.96" fill="#888888"/>
<rect x="112.10" y="286.97" width="0.6" height="1.33" fill="#333"/>
<rect x="111.20" y="286.67" width="2.40" height="0.6" fill="#333"/>
<rect x="110.90" y="288.30" width="3.00" height="30.30" fill="#9b1028"/>
<rect x="118.15" y="288.96" width="0.6" height="1.00" fill="#333"/>
<rect x="117.25" y="288.66" width="2.40" height="0.6" fill="#333"/>
<rect x="117.10" y="290.36" width="2.90" height="28.24" fill="white" stroke="#111" stroke-width="0.8"/>
<rect x="22" y="318" width="99.40" height="1" fill="#222"/>
<line x1="71.50" y1="250" x2="71.50" y2="332" stroke="#1a1a1a" stroke-width="1" stroke-dasharray="1,1"/>
<text x="70.70" y="249.00" font-size="5.0" text-anchor="middle" font-weight="bold" fill="#1e1e1e"  stroke="#1e1e1e" stroke-width="0.18">Lyn</text>
<text x="34.65" y="325.90" font-size="4.6" text-anchor="middle" font-weight="normal" fill="#0a0a0a"  stroke="#0a0a0a" stroke-width="0.18">&#8722;IgM</text>
<path d="M25.70,326.30 L25.70,327.20 L45.40,327.20 L45.40,326.30" fill="none" stroke="#444" stroke-width="0.7"/>
<text x="58.65" y="325.90" font-size="4.6" text-anchor="middle" font-weight="normal" fill="#0a0a0a"  stroke="#0a0a0a" stroke-width="0.18">+IgM</text>
<path d="M49.70,326.30 L49.70,327.20 L69.40,327.20 L69.40,326.30" fill="none" stroke="#444" stroke-width="0.7"/>
<text x="84.62" y="325.90" font-size="4.6" text-anchor="middle" font-weight="normal" fill="#0a0a0a"  stroke="#0a0a0a" stroke-width="0.18">&#8722;IgM</text>
<path d="M75.60,326.30 L75.60,327.20 L95.45,327.20 L95.45,326.30" fill="none" stroke="#444" stroke-width="0.7"/>
<text x="108.82" y="325.90" font-size="4.6" text-anchor="middle" font-weight="normal" fill="#0a0a0a"  stroke="#0a0a0a" stroke-width="0.18">+IgM</text>
<path d="M99.80,326.30 L99.80,327.20 L119.65,327.20 L119.65,326.30" fill="none" stroke="#444" stroke-width="0.7"/>
<rect x="23.60" y="329" width="46.70" height="1.5" fill="#9b1028"/>
<text x="46.60" y="336.90" font-size="5.0" text-anchor="middle" font-weight="normal" fill="#161616"  stroke="#161616" stroke-width="0.18">Phospho</text>
<rect x="72.50" y="329" width="48.70" height="1.5" fill="#111"/>
<text x="95.20" y="336.90" font-size="5.0" text-anchor="middle" font-weight="normal" fill="#161616"  stroke="#161616" stroke-width="0.18">Total</text>
<rect x="55.70" y="263.36" width="7.20" height="0.6" fill="#555"/>
<text x="59.30" y="264.36" font-size="5.4" text-anchor="middle" font-weight="bold" fill="#000"  stroke="#000" stroke-width="0.18">**</text>
<text x="68.20" y="291.96" font-size="5.0" text-anchor="middle" font-weight="bold" fill="#111"  stroke="#111" stroke-width="0.18">#</text>
<text x="127.60" y="248.60" font-size="12.0" text-anchor="start" font-weight="bold" fill="#0c0c0c" stroke="#0c0c0c" stroke-width="0.15">I</text>
<rect x="141" y="252.50" width="1" height="66.50" fill="#222"/>
<rect x="139" y="318.55" width="2" height="0.9" fill="#222"/>
<text x="139.10" y="320.60" font-size="4.5" text-anchor="end" font-weight="bold" fill="#2a2a2a"  stroke="#2a2a2a" stroke-width="0.18">0.0</text>
<rect x="139" y="296.38" width="2" height="0.9" fill="#222"/>
<text x="139.10" y="298.43" font-size="4.5" text-anchor="end" font-weight="bold" fill="#2a2a2a"  stroke="#2a2a2a" stroke-width="0.18">0.5</text>
<rect x="139" y="274.22" width="2" height="0.9" fill="#222"/>
<text x="139.10" y="276.27" font-size="4.5" text-anchor="end" font-weight="bold" fill="#2a2a2a"  stroke="#2a2a2a" stroke-width="0.18">1.0</text>
<rect x="139" y="252.05" width="2" height="0.9" fill="#222"/>
<text x="139.10" y="254.10" font-size="4.5" text-anchor="end" font-weight="bold" fill="#2a2a2a"  stroke="#2a2a2a" stroke-width="0.18">1.5</text>
<rect x="145.40" y="264.91" width="0.6" height="3.55" fill="#333"/>
<rect x="144.50" y="264.61" width="2.40" height="0.6" fill="#333"/>
<rect x="144.20" y="268.46" width="3.00" height="50.54" fill="#141414"/>
<rect x="150.20" y="276.44" width="3.00" height="42.56" fill="#a3a3a3"/>
<rect x="157.40" y="280.43" width="0.6" height="3.55" fill="#333"/>
<rect x="156.50" y="280.13" width="2.40" height="0.6" fill="#333"/>
<rect x="156.20" y="283.98" width="3.00" height="35.02" fill="#9b1028"/>
<rect x="163.40" y="284.86" width="0.6" height="3.10" fill="#333"/>
<rect x="162.50" y="284.56" width="2.40" height="0.6" fill="#333"/>
<rect x="162.35" y="288.37" width="2.90" height="30.63" fill="white" stroke="#111" stroke-width="0.8"/>
<rect x="169.40" y="259.59" width="0.6" height="4.43" fill="#333"/>
<rect x="168.50" y="259.29" width="2.40" height="0.6" fill="#333"/>
<rect x="168.20" y="264.03" width="3.00" height="54.97" fill="#141414"/>
<rect x="174.20" y="264.91" width="3.00" height="54.09" fill="#a3a3a3"/>
<rect x="180.20" y="276.44" width="3.00" height="42.56" fill="#9b1028"/>
<rect x="187.40" y="281.76" width="0.6" height="1.33" fill="#333"/>
<rect x="186.50" y="281.46" width="2.40" height="0.6" fill="#333"/>
<rect x="186.35" y="283.49" width="2.90" height="35.51" fill="white" stroke="#111" stroke-width="0.8"/>
<rect x="194.10" y="274.22" width="3.00" height="44.78" fill="#141414"/>
<rect x="200.15" y="275.11" width="3.00" height="43.89" fill="#a3a3a3"/>
<rect x="206.20" y="275.11" width="3.00" height="43.89" fill="#9b1028"/>
<rect x="212.40" y="281.27" width="2.90" height="37.73" fill="white" stroke="#111" stroke-width="0.8"/>
<rect x="218.30" y="274.22" width="3.00" height="44.78" fill="#141414"/>
<rect x="224.35" y="274.67" width="3.00" height="44.33" fill="#a3a3a3"/>
<rect x="230.40" y="272.89" width="3.00" height="46.11" fill="#9b1028"/>
<rect x="237.65" y="276.88" width="0.6" height="1.77" fill="#333"/>
<rect x="236.75" y="276.58" width="2.40" height="0.6" fill="#333"/>
<rect x="236.60" y="279.06" width="2.90" height="39.94" fill="white" stroke="#111" stroke-width="0.8"/>
<rect x="141" y="318" width="99.70" height="1" fill="#222"/>
<line x1="191.50" y1="250" x2="191.50" y2="333" stroke="#1a1a1a" stroke-width="1" stroke-dasharray="1,1"/>
<text x="190.00" y="248.60" font-size="5.0" text-anchor="middle" font-weight="bold" fill="#1e1e1e"  stroke="#1e1e1e" stroke-width="0.18">Syk</text>
<text x="154.15" y="326.30" font-size="4.6" text-anchor="middle" font-weight="normal" fill="#0a0a0a"  stroke="#0a0a0a" stroke-width="0.18">&#8722;IgM</text>
<path d="M145.20,326.70 L145.20,327.60 L164.90,327.60 L164.90,326.70" fill="none" stroke="#444" stroke-width="0.7"/>
<text x="178.15" y="326.30" font-size="4.6" text-anchor="middle" font-weight="normal" fill="#0a0a0a"  stroke="#0a0a0a" stroke-width="0.18">+IgM</text>
<path d="M169.20,326.70 L169.20,327.60 L188.90,327.60 L188.90,326.70" fill="none" stroke="#444" stroke-width="0.7"/>
<text x="204.12" y="326.30" font-size="4.6" text-anchor="middle" font-weight="normal" fill="#0a0a0a"  stroke="#0a0a0a" stroke-width="0.18">&#8722;IgM</text>
<path d="M195.10,326.70 L195.10,327.60 L214.95,327.60 L214.95,326.70" fill="none" stroke="#444" stroke-width="0.7"/>
<text x="228.32" y="326.30" font-size="4.6" text-anchor="middle" font-weight="normal" fill="#0a0a0a"  stroke="#0a0a0a" stroke-width="0.18">+IgM</text>
<path d="M219.30,326.70 L219.30,327.60 L239.15,327.60 L239.15,326.70" fill="none" stroke="#444" stroke-width="0.7"/>
<rect x="142.90" y="330" width="47.40" height="1.5" fill="#9b1028"/>
<text x="165.90" y="337.30" font-size="5.0" text-anchor="middle" font-weight="normal" fill="#161616"  stroke="#161616" stroke-width="0.18">Phospho</text>
<rect x="192.50" y="330" width="48.00" height="1.5" fill="#111"/>
<text x="214.50" y="337.30" font-size="5.0" text-anchor="middle" font-weight="normal" fill="#161616"  stroke="#161616" stroke-width="0.18">Total</text>
<rect x="169.20" y="250.78" width="13.20" height="0.6" fill="#555"/>
<text x="175.80" y="251.78" font-size="5.4" text-anchor="middle" font-weight="bold" fill="#000"  stroke="#000" stroke-width="0.18">**</text>
<rect x="175.20" y="260.62" width="7.20" height="0.6" fill="#555"/>
<text x="178.80" y="261.62" font-size="5.4" text-anchor="middle" font-weight="bold" fill="#000"  stroke="#000" stroke-width="0.18">**</text>
<text x="187.70" y="280.76" font-size="5.0" text-anchor="middle" font-weight="bold" fill="#111"  stroke="#111" stroke-width="0.18">#*</text>
<text x="246.10" y="248.90" font-size="12.0" text-anchor="start" font-weight="bold" fill="#0c0c0c" stroke="#0c0c0c" stroke-width="0.15">J</text>
<rect x="264" y="253.20" width="1" height="66.80" fill="#222"/>
<rect x="262" y="318.85" width="2" height="0.9" fill="#222"/>
<text x="261.50" y="320.90" font-size="4.5" text-anchor="end" font-weight="bold" fill="#2a2a2a"  stroke="#2a2a2a" stroke-width="0.18">0.0</text>
<rect x="262" y="302.32" width="2" height="0.9" fill="#222"/>
<text x="261.50" y="304.38" font-size="4.5" text-anchor="end" font-weight="bold" fill="#2a2a2a"  stroke="#2a2a2a" stroke-width="0.18">0.5</text>
<rect x="262" y="285.80" width="2" height="0.9" fill="#222"/>
<text x="261.50" y="287.85" font-size="4.5" text-anchor="end" font-weight="bold" fill="#2a2a2a"  stroke="#2a2a2a" stroke-width="0.18">1.0</text>
<rect x="262" y="269.28" width="2" height="0.9" fill="#222"/>
<text x="261.50" y="271.33" font-size="4.5" text-anchor="end" font-weight="bold" fill="#2a2a2a"  stroke="#2a2a2a" stroke-width="0.18">1.5</text>
<rect x="262" y="252.75" width="2" height="0.9" fill="#222"/>
<text x="261.50" y="254.80" font-size="4.5" text-anchor="end" font-weight="bold" fill="#2a2a2a"  stroke="#2a2a2a" stroke-width="0.18">2.0</text>
<rect x="266.30" y="282.28" width="3.00" height="37.02" fill="#141414"/>
<rect x="272.30" y="287.24" width="3.00" height="32.06" fill="#787878"/>
<rect x="278.30" y="292.20" width="3.00" height="27.10" fill="#9b1028"/>
<rect x="285.50" y="295.17" width="0.6" height="1.65" fill="#333"/>
<rect x="284.60" y="294.87" width="2.40" height="0.6" fill="#333"/>
<rect x="284.45" y="297.23" width="2.90" height="22.07" fill="white" stroke="#111" stroke-width="0.8"/>
<rect x="291.50" y="266.42" width="0.6" height="0.99" fill="#333"/>
<rect x="290.60" y="266.12" width="2.40" height="0.6" fill="#333"/>
<rect x="290.30" y="267.41" width="3.00" height="51.89" fill="#141414"/>
<rect x="296.30" y="266.09" width="3.00" height="53.21" fill="#787878"/>
<rect x="302.30" y="292.86" width="3.00" height="26.44" fill="#9b1028"/>
<rect x="308.45" y="307.14" width="2.90" height="12.16" fill="white" stroke="#111" stroke-width="0.8"/>
<rect x="315.70" y="287.24" width="3.00" height="32.06" fill="#141414"/>
<rect x="321.75" y="288.23" width="3.00" height="31.07" fill="#787878"/>
<rect x="327.80" y="286.58" width="3.00" height="32.72" fill="#9b1028"/>
<rect x="334.00" y="281.36" width="2.90" height="37.94" fill="white" stroke="#111" stroke-width="0.8"/>
<rect x="341.10" y="282.94" width="0.6" height="1.98" fill="#333"/>
<rect x="340.20" y="282.64" width="2.40" height="0.6" fill="#333"/>
<rect x="339.90" y="284.93" width="3.00" height="34.37" fill="#141414"/>
<rect x="345.95" y="277.99" width="3.00" height="41.31" fill="#787878"/>
<rect x="352.00" y="285.26" width="3.00" height="34.04" fill="#9b1028"/>
<rect x="358.20" y="284.34" width="2.90" height="34.96" fill="white" stroke="#111" stroke-width="0.8"/>
<rect x="264" y="319" width="99.10" height="1" fill="#222"/>
<line x1="313.50" y1="250" x2="313.50" y2="333" stroke="#1a1a1a" stroke-width="1" stroke-dasharray="1,1"/>
<text x="313.40" y="249.00" font-size="5.0" text-anchor="middle" font-weight="bold" fill="#1e1e1e"  stroke="#1e1e1e" stroke-width="0.18">BTK</text>
<text x="276.25" y="326.60" font-size="4.6" text-anchor="middle" font-weight="normal" fill="#0a0a0a"  stroke="#0a0a0a" stroke-width="0.18">&#8722;IgM</text>
<path d="M267.30,327.00 L267.30,327.90 L287.00,327.90 L287.00,327.00" fill="none" stroke="#444" stroke-width="0.7"/>
<text x="300.25" y="326.60" font-size="4.6" text-anchor="middle" font-weight="normal" fill="#0a0a0a"  stroke="#0a0a0a" stroke-width="0.18">+IgM</text>
<path d="M291.30,327.00 L291.30,327.90 L311.00,327.90 L311.00,327.00" fill="none" stroke="#444" stroke-width="0.7"/>
<text x="325.73" y="326.60" font-size="4.6" text-anchor="middle" font-weight="normal" fill="#0a0a0a"  stroke="#0a0a0a" stroke-width="0.18">&#8722;IgM</text>
<path d="M316.70,327.00 L316.70,327.90 L336.55,327.90 L336.55,327.00" fill="none" stroke="#444" stroke-width="0.7"/>
<text x="349.93" y="326.60" font-size="4.6" text-anchor="middle" font-weight="normal" fill="#0a0a0a"  stroke="#0a0a0a" stroke-width="0.18">+IgM</text>
<path d="M340.90,327.00 L340.90,327.90 L360.75,327.90 L360.75,327.00" fill="none" stroke="#444" stroke-width="0.7"/>
<rect x="265.30" y="330" width="47.00" height="1.5" fill="#9b1028"/>
<text x="288.30" y="337.60" font-size="5.0" text-anchor="middle" font-weight="normal" fill="#161616"  stroke="#161616" stroke-width="0.18">Phospho</text>
<rect x="314.50" y="330" width="48.40" height="1.5" fill="#111"/>
<text x="336.90" y="337.60" font-size="5.0" text-anchor="middle" font-weight="normal" fill="#161616"  stroke="#161616" stroke-width="0.18">Total</text>
<rect x="291.30" y="251.58" width="13.20" height="0.6" fill="#555"/>
<text x="297.90" y="252.58" font-size="5.4" text-anchor="middle" font-weight="bold" fill="#000"  stroke="#000" stroke-width="0.18">**</text>
<rect x="297.30" y="260.50" width="7.20" height="0.6" fill="#555"/>
<text x="300.90" y="261.50" font-size="5.4" text-anchor="middle" font-weight="bold" fill="#000"  stroke="#000" stroke-width="0.18">**</text>
<text x="309.80" y="304.84" font-size="5.0" text-anchor="middle" font-weight="bold" fill="#111"  stroke="#111" stroke-width="0.18">#</text>
<text x="0.70" y="356.10" font-size="12.0" text-anchor="start" font-weight="bold" fill="#0c0c0c" stroke="#0c0c0c" stroke-width="0.15">K</text>
<rect x="22" y="360.00" width="1" height="66.00" fill="#222"/>
<rect x="20" y="425.35" width="2" height="0.9" fill="#222"/>
<text x="19.80" y="427.40" font-size="4.5" text-anchor="end" font-weight="bold" fill="#2a2a2a"  stroke="#2a2a2a" stroke-width="0.18">0.0</text>
<rect x="20" y="408.90" width="2" height="0.9" fill="#222"/>
<text x="19.80" y="410.95" font-size="4.5" text-anchor="end" font-weight="bold" fill="#2a2a2a"  stroke="#2a2a2a" stroke-width="0.18">0.5</text>
<rect x="20" y="392.45" width="2" height="0.9" fill="#222"/>
<text x="19.80" y="394.50" font-size="4.5" text-anchor="end" font-weight="bold" fill="#2a2a2a"  stroke="#2a2a2a" stroke-width="0.18">1.0</text>
<rect x="20" y="376.00" width="2" height="0.9" fill="#222"/>
<text x="19.80" y="378.05" font-size="4.5" text-anchor="end" font-weight="bold" fill="#2a2a2a"  stroke="#2a2a2a" stroke-width="0.18">1.5</text>
<rect x="20" y="359.55" width="2" height="0.9" fill="#222"/>
<text x="19.80" y="361.60" font-size="4.5" text-anchor="end" font-weight="bold" fill="#2a2a2a"  stroke="#2a2a2a" stroke-width="0.18">2.0</text>
<text x="0" y="0" font-size="4.95" font-weight="bold" text-anchor="middle" fill="#1a1a1a" stroke="#1a1a1a" stroke-width="0.12" transform="translate(8.50,392.00) rotate(-90)">Relative fold change</text>
<rect x="25.30" y="387.64" width="3.00" height="38.16" fill="#141414"/>
<rect x="31.30" y="394.55" width="3.00" height="31.26" fill="#6e6e6e"/>
<rect x="37.30" y="385.00" width="3.00" height="40.80" fill="#9b1028"/>
<rect x="43.45" y="407.45" width="2.90" height="18.35" fill="white" stroke="#111" stroke-width="0.8"/>
<rect x="50.50" y="373.49" width="0.6" height="2.63" fill="#333"/>
<rect x="49.60" y="373.19" width="2.40" height="0.6" fill="#333"/>
<rect x="49.30" y="376.12" width="3.00" height="49.68" fill="#141414"/>
<rect x="55.30" y="387.64" width="3.00" height="38.16" fill="#6e6e6e"/>
<rect x="61.30" y="387.97" width="3.00" height="37.84" fill="#9b1028"/>
<rect x="68.50" y="418.56" width="0.6" height="2.63" fill="#333"/>
<rect x="67.60" y="418.26" width="2.40" height="0.6" fill="#333"/>
<rect x="67.45" y="421.59" width="2.90" height="4.21" fill="white" stroke="#111" stroke-width="0.8"/>
<rect x="75.80" y="387.97" width="0.6" height="2.63" fill="#333"/>
<rect x="74.90" y="387.67" width="2.40" height="0.6" fill="#333"/>
<rect x="74.60" y="390.60" width="3.00" height="35.20" fill="#141414"/>
<rect x="81.85" y="394.22" width="0.6" height="0.99" fill="#333"/>
<rect x="80.95" y="393.92" width="2.40" height="0.6" fill="#333"/>
<rect x="80.65" y="395.20" width="3.00" height="30.60" fill="#6e6e6e"/>
<rect x="87.90" y="396.85" width="0.6" height="1.32" fill="#333"/>
<rect x="87.00" y="396.55" width="2.40" height="0.6" fill="#333"/>
<rect x="86.70" y="398.16" width="3.00" height="27.64" fill="#9b1028"/>
<rect x="92.90" y="393.96" width="2.90" height="31.84" fill="white" stroke="#111" stroke-width="0.8"/>
<rect x="100.00" y="390.93" width="0.6" height="0.99" fill="#333"/>
<rect x="99.10" y="390.63" width="2.40" height="0.6" fill="#333"/>
<rect x="98.80" y="391.91" width="3.00" height="33.89" fill="#141414"/>
<rect x="104.85" y="388.29" width="3.00" height="37.51" fill="#6e6e6e"/>
<rect x="112.10" y="393.89" width="0.6" height="1.32" fill="#333"/>
<rect x="111.20" y="393.59" width="2.40" height="0.6" fill="#333"/>
<rect x="110.90" y="395.20" width="3.00" height="30.60" fill="#9b1028"/>
<rect x="117.10" y="397.91" width="2.90" height="27.89" fill="white" stroke="#111" stroke-width="0.8"/>
<rect x="22" y="425" width="99.40" height="1" fill="#222"/>
<line x1="71.50" y1="357" x2="71.50" y2="439" stroke="#1a1a1a" stroke-width="1" stroke-dasharray="1,1"/>
<text x="71.30" y="355.50" font-size="5.0" text-anchor="middle" font-weight="bold" fill="#1e1e1e"  stroke="#1e1e1e" stroke-width="0.18">PLC&#947;2</text>
<text x="35.25" y="433.10" font-size="4.6" text-anchor="middle" font-weight="normal" fill="#0a0a0a"  stroke="#0a0a0a" stroke-width="0.18">&#8722;IgM</text>
<path d="M26.30,433.50 L26.30,434.40 L46.00,434.40 L46.00,433.50" fill="none" stroke="#444" stroke-width="0.7"/>
<text x="59.25" y="433.10" font-size="4.6" text-anchor="middle" font-weight="normal" fill="#0a0a0a"  stroke="#0a0a0a" stroke-width="0.18">+IgM</text>
<path d="M50.30,433.50 L50.30,434.40 L70.00,434.40 L70.00,433.50" fill="none" stroke="#444" stroke-width="0.7"/>
<text x="84.62" y="433.10" font-size="4.6" text-anchor="middle" font-weight="normal" fill="#0a0a0a"  stroke="#0a0a0a" stroke-width="0.18">&#8722;IgM</text>
<path d="M75.60,433.50 L75.60,434.40 L95.45,434.40 L95.45,433.50" fill="none" stroke="#444" stroke-width="0.7"/>
<text x="108.82" y="433.10" font-size="4.6" text-anchor="middle" font-weight="normal" fill="#0a0a0a"  stroke="#0a0a0a" stroke-width="0.18">+IgM</text>
<path d="M99.80,433.50 L99.80,434.40 L119.65,434.40 L119.65,433.50" fill="none" stroke="#444" stroke-width="0.7"/>
<rect x="23.60" y="437" width="46.70" height="1.5" fill="#9b1028"/>
<text x="46.60" y="444.10" font-size="5.0" text-anchor="middle" font-weight="normal" fill="#161616"  stroke="#161616" stroke-width="0.18">Phospho</text>
<rect x="72.50" y="437" width="48.70" height="1.5" fill="#111"/>
<text x="95.20" y="444.10" font-size="5.0" text-anchor="middle" font-weight="normal" fill="#161616"  stroke="#161616" stroke-width="0.18">Total</text>
<rect x="50.30" y="360.36" width="13.20" height="0.6" fill="#555"/>
<text x="50.30" y="361.36" font-size="5.4" text-anchor="start" font-weight="bold" fill="#000"  stroke="#000" stroke-width="0.18">**</text>
<rect x="50.30" y="367.69" width="7.20" height="0.6" fill="#555"/>
<text x="50.30" y="368.69" font-size="5.4" text-anchor="start" font-weight="bold" fill="#000"  stroke="#000" stroke-width="0.18">**</text>
<text x="68.80" y="417.56" font-size="5.0" text-anchor="middle" font-weight="bold" fill="#111"  stroke="#111" stroke-width="0.18">#</text>
<text x="125.40" y="356.10" font-size="12.0" text-anchor="start" font-weight="bold" fill="#0c0c0c" stroke="#0c0c0c" stroke-width="0.15">L</text>
<rect x="142" y="359.80" width="1" height="66.20" fill="#222"/>
<rect x="140" y="425.45" width="2" height="0.9" fill="#222"/>
<text x="139.60" y="427.50" font-size="4.5" text-anchor="end" font-weight="bold" fill="#2a2a2a"  stroke="#2a2a2a" stroke-width="0.18">0.0</text>
<rect x="140" y="408.93" width="2" height="0.9" fill="#222"/>
<text x="139.60" y="410.98" font-size="4.5" text-anchor="end" font-weight="bold" fill="#2a2a2a"  stroke="#2a2a2a" stroke-width="0.18">0.5</text>
<rect x="140" y="392.40" width="2" height="0.9" fill="#222"/>
<text x="139.60" y="394.45" font-size="4.5" text-anchor="end" font-weight="bold" fill="#2a2a2a"  stroke="#2a2a2a" stroke-width="0.18">1.0</text>
<rect x="140" y="375.88" width="2" height="0.9" fill="#222"/>
<text x="139.60" y="377.93" font-size="4.5" text-anchor="end" font-weight="bold" fill="#2a2a2a"  stroke="#2a2a2a" stroke-width="0.18">1.5</text>
<rect x="140" y="359.35" width="2" height="0.9" fill="#222"/>
<text x="139.60" y="361.40" font-size="4.5" text-anchor="end" font-weight="bold" fill="#2a2a2a"  stroke="#2a2a2a" stroke-width="0.18">2.0</text>
<rect x="144.70" y="386.57" width="3.00" height="39.33" fill="#141414"/>
<rect x="150.70" y="392.19" width="3.00" height="33.71" fill="#767676"/>
<rect x="157.90" y="387.89" width="0.6" height="1.98" fill="#333"/>
<rect x="157.00" y="387.59" width="2.40" height="0.6" fill="#333"/>
<rect x="156.70" y="389.88" width="3.00" height="36.02" fill="#9b1028"/>
<rect x="163.90" y="397.81" width="0.6" height="2.31" fill="#333"/>
<rect x="163.00" y="397.51" width="2.40" height="0.6" fill="#333"/>
<rect x="162.85" y="400.52" width="2.90" height="25.38" fill="white" stroke="#111" stroke-width="0.8"/>
<rect x="169.90" y="372.36" width="0.6" height="2.31" fill="#333"/>
<rect x="169.00" y="372.06" width="2.40" height="0.6" fill="#333"/>
<rect x="168.70" y="374.67" width="3.00" height="51.23" fill="#141414"/>
<rect x="175.90" y="392.85" width="0.6" height="1.98" fill="#333"/>
<rect x="175.00" y="392.55" width="2.40" height="0.6" fill="#333"/>
<rect x="174.70" y="394.83" width="3.00" height="31.07" fill="#767676"/>
<rect x="180.70" y="387.23" width="3.00" height="38.67" fill="#9b1028"/>
<rect x="187.90" y="409.04" width="0.6" height="1.65" fill="#333"/>
<rect x="187.00" y="408.74" width="2.40" height="0.6" fill="#333"/>
<rect x="186.85" y="411.10" width="2.90" height="14.80" fill="white" stroke="#111" stroke-width="0.8"/>
<rect x="195.30" y="382.60" width="0.6" height="2.31" fill="#333"/>
<rect x="194.40" y="382.30" width="2.40" height="0.6" fill="#333"/>
<rect x="194.10" y="384.92" width="3.00" height="40.98" fill="#141414"/>
<rect x="201.35" y="394.50" width="0.6" height="1.98" fill="#333"/>
<rect x="200.45" y="394.20" width="2.40" height="0.6" fill="#333"/>
<rect x="200.15" y="396.49" width="3.00" height="29.41" fill="#767676"/>
<rect x="206.20" y="396.49" width="3.00" height="29.41" fill="#9b1028"/>
<rect x="212.40" y="394.90" width="2.90" height="31.00" fill="white" stroke="#111" stroke-width="0.8"/>
<rect x="219.50" y="385.91" width="0.6" height="2.31" fill="#333"/>
<rect x="218.60" y="385.61" width="2.40" height="0.6" fill="#333"/>
<rect x="218.30" y="388.22" width="3.00" height="37.68" fill="#141414"/>
<rect x="224.35" y="387.56" width="3.00" height="38.34" fill="#767676"/>
<rect x="230.40" y="397.15" width="3.00" height="28.75" fill="#9b1028"/>
<rect x="237.65" y="397.15" width="0.6" height="2.31" fill="#333"/>
<rect x="236.75" y="396.85" width="2.40" height="0.6" fill="#333"/>
<rect x="236.60" y="399.86" width="2.90" height="26.04" fill="white" stroke="#111" stroke-width="0.8"/>
<rect x="142" y="425" width="99.20" height="1" fill="#222"/>
<line x1="191.50" y1="357" x2="191.50" y2="439" stroke="#1a1a1a" stroke-width="1" stroke-dasharray="1,1"/>
<text x="192.10" y="355.80" font-size="5.0" text-anchor="middle" font-weight="bold" fill="#1e1e1e"  stroke="#1e1e1e" stroke-width="0.18">ERK1/2</text>
<text x="154.65" y="433.20" font-size="4.6" text-anchor="middle" font-weight="normal" fill="#0a0a0a"  stroke="#0a0a0a" stroke-width="0.18">&#8722;IgM</text>
<path d="M145.70,433.60 L145.70,434.50 L165.40,434.50 L165.40,433.60" fill="none" stroke="#444" stroke-width="0.7"/>
<text x="178.65" y="433.20" font-size="4.6" text-anchor="middle" font-weight="normal" fill="#0a0a0a"  stroke="#0a0a0a" stroke-width="0.18">+IgM</text>
<path d="M169.70,433.60 L169.70,434.50 L189.40,434.50 L189.40,433.60" fill="none" stroke="#444" stroke-width="0.7"/>
<text x="204.12" y="433.20" font-size="4.6" text-anchor="middle" font-weight="normal" fill="#0a0a0a"  stroke="#0a0a0a" stroke-width="0.18">&#8722;IgM</text>
<path d="M195.10,433.60 L195.10,434.50 L214.95,434.50 L214.95,433.60" fill="none" stroke="#444" stroke-width="0.7"/>
<text x="228.32" y="433.20" font-size="4.6" text-anchor="middle" font-weight="normal" fill="#0a0a0a"  stroke="#0a0a0a" stroke-width="0.18">+IgM</text>
<path d="M219.30,433.60 L219.30,434.50 L239.15,434.50 L239.15,433.60" fill="none" stroke="#444" stroke-width="0.7"/>
<rect x="143.40" y="437" width="46.90" height="1.5" fill="#9b1028"/>
<text x="166.40" y="444.20" font-size="5.0" text-anchor="middle" font-weight="normal" fill="#161616"  stroke="#161616" stroke-width="0.18">Phospho</text>
<rect x="192.50" y="437" width="48.50" height="1.5" fill="#111"/>
<text x="215.00" y="444.20" font-size="5.0" text-anchor="middle" font-weight="normal" fill="#161616"  stroke="#161616" stroke-width="0.18">Total</text>
<rect x="169.70" y="360.33" width="13.20" height="0.6" fill="#555"/>
<text x="169.70" y="361.33" font-size="5.4" text-anchor="start" font-weight="bold" fill="#000"  stroke="#000" stroke-width="0.18">**</text>
<rect x="169.70" y="367.76" width="7.20" height="0.6" fill="#555"/>
<text x="169.70" y="368.76" font-size="5.4" text-anchor="start" font-weight="bold" fill="#000"  stroke="#000" stroke-width="0.18">**</text>
<text x="188.20" y="408.04" font-size="5.0" text-anchor="middle" font-weight="bold" fill="#111"  stroke="#111" stroke-width="0.18">#</text>
<text x="244.80" y="356.10" font-size="12.0" text-anchor="start" font-weight="bold" fill="#0c0c0c" stroke="#0c0c0c" stroke-width="0.15">M</text>
<rect x="264" y="360.20" width="1" height="65.80" fill="#222"/>
<rect x="262" y="425.45" width="2" height="0.9" fill="#222"/>
<text x="261.90" y="427.50" font-size="4.5" text-anchor="end" font-weight="bold" fill="#2a2a2a"  stroke="#2a2a2a" stroke-width="0.18">0.0</text>
<rect x="262" y="412.31" width="2" height="0.9" fill="#222"/>
<text x="261.90" y="414.36" font-size="4.5" text-anchor="end" font-weight="bold" fill="#2a2a2a"  stroke="#2a2a2a" stroke-width="0.18">0.5</text>
<rect x="262" y="399.17" width="2" height="0.9" fill="#222"/>
<text x="261.90" y="401.22" font-size="4.5" text-anchor="end" font-weight="bold" fill="#2a2a2a"  stroke="#2a2a2a" stroke-width="0.18">1.0</text>
<rect x="262" y="386.03" width="2" height="0.9" fill="#222"/>
<text x="261.90" y="388.08" font-size="4.5" text-anchor="end" font-weight="bold" fill="#2a2a2a"  stroke="#2a2a2a" stroke-width="0.18">1.5</text>
<rect x="262" y="372.89" width="2" height="0.9" fill="#222"/>
<text x="261.90" y="374.94" font-size="4.5" text-anchor="end" font-weight="bold" fill="#2a2a2a"  stroke="#2a2a2a" stroke-width="0.18">2.0</text>
<rect x="262" y="359.75" width="2" height="0.9" fill="#222"/>
<text x="261.90" y="361.80" font-size="4.5" text-anchor="end" font-weight="bold" fill="#2a2a2a"  stroke="#2a2a2a" stroke-width="0.18">2.5</text>
<rect x="267.00" y="400.41" width="3.00" height="25.49" fill="#141414"/>
<rect x="274.20" y="392.52" width="0.6" height="3.42" fill="#333"/>
<rect x="273.30" y="392.22" width="2.40" height="0.6" fill="#333"/>
<rect x="273.00" y="395.94" width="3.00" height="29.96" fill="#777777"/>
<rect x="279.00" y="408.56" width="3.00" height="17.34" fill="#9b1028"/>
<rect x="285.15" y="412.63" width="2.90" height="13.27" fill="white" stroke="#111" stroke-width="0.8"/>
<rect x="292.20" y="369.40" width="0.6" height="1.84" fill="#333"/>
<rect x="291.30" y="369.10" width="2.40" height="0.6" fill="#333"/>
<rect x="291.00" y="371.24" width="3.00" height="54.66" fill="#141414"/>
<rect x="297.00" y="398.31" width="3.00" height="27.59" fill="#777777"/>
<rect x="303.00" y="412.23" width="3.00" height="13.67" fill="#9b1028"/>
<rect x="310.20" y="413.81" width="0.6" height="1.31" fill="#333"/>
<rect x="309.30" y="413.51" width="2.40" height="0.6" fill="#333"/>
<rect x="309.15" y="415.53" width="2.90" height="10.37" fill="white" stroke="#111" stroke-width="0.8"/>
<rect x="316.80" y="392.79" width="3.00" height="33.11" fill="#141414"/>
<rect x="324.05" y="404.61" width="0.6" height="2.10" fill="#333"/>
<rect x="323.15" y="404.31" width="2.40" height="0.6" fill="#333"/>
<rect x="322.85" y="406.72" width="3.00" height="19.18" fill="#777777"/>
<rect x="330.10" y="386.22" width="0.6" height="1.31" fill="#333"/>
<rect x="329.20" y="385.92" width="2.40" height="0.6" fill="#333"/>
<rect x="328.90" y="387.53" width="3.00" height="38.37" fill="#9b1028"/>
<rect x="335.10" y="402.65" width="2.90" height="23.25" fill="white" stroke="#111" stroke-width="0.8"/>
<rect x="342.20" y="391.21" width="0.6" height="1.58" fill="#333"/>
<rect x="341.30" y="390.91" width="2.40" height="0.6" fill="#333"/>
<rect x="341.00" y="392.79" width="3.00" height="33.11" fill="#141414"/>
<rect x="348.25" y="393.05" width="0.6" height="1.58" fill="#333"/>
<rect x="347.35" y="392.75" width="2.40" height="0.6" fill="#333"/>
<rect x="347.05" y="394.63" width="3.00" height="31.27" fill="#777777"/>
<rect x="353.10" y="403.56" width="3.00" height="22.34" fill="#9b1028"/>
<rect x="359.30" y="395.03" width="2.90" height="30.87" fill="white" stroke="#111" stroke-width="0.8"/>
<rect x="264" y="425" width="99.50" height="1" fill="#222"/>
<line x1="313.50" y1="358" x2="313.50" y2="439" stroke="#1a1a1a" stroke-width="1" stroke-dasharray="1,1"/>
<text x="314.70" y="356.40" font-size="5.0" text-anchor="middle" font-weight="bold" fill="#1e1e1e"  stroke="#1e1e1e" stroke-width="0.18">AKT</text>
<text x="276.95" y="433.20" font-size="4.6" text-anchor="middle" font-weight="normal" fill="#0a0a0a"  stroke="#0a0a0a" stroke-width="0.18">&#8722;IgM</text>
<path d="M268.00,433.60 L268.00,434.50 L287.70,434.50 L287.70,433.60" fill="none" stroke="#444" stroke-width="0.7"/>
<text x="300.95" y="433.20" font-size="4.6" text-anchor="middle" font-weight="normal" fill="#0a0a0a"  stroke="#0a0a0a" stroke-width="0.18">+IgM</text>
<path d="M292.00,433.60 L292.00,434.50 L311.70,434.50 L311.70,433.60" fill="none" stroke="#444" stroke-width="0.7"/>
<text x="326.83" y="433.20" font-size="4.6" text-anchor="middle" font-weight="normal" fill="#0a0a0a"  stroke="#0a0a0a" stroke-width="0.18">&#8722;IgM</text>
<path d="M317.80,433.60 L317.80,434.50 L337.65,434.50 L337.65,433.60" fill="none" stroke="#444" stroke-width="0.7"/>
<text x="351.03" y="433.20" font-size="4.6" text-anchor="middle" font-weight="normal" fill="#0a0a0a"  stroke="#0a0a0a" stroke-width="0.18">+IgM</text>
<path d="M342.00,433.60 L342.00,434.50 L361.85,434.50 L361.85,433.60" fill="none" stroke="#444" stroke-width="0.7"/>
<rect x="265.70" y="437" width="46.60" height="1.5" fill="#9b1028"/>
<text x="288.70" y="444.20" font-size="5.0" text-anchor="middle" font-weight="normal" fill="#161616"  stroke="#161616" stroke-width="0.18">Phospho</text>
<rect x="314.50" y="437" width="48.80" height="1.5" fill="#111"/>
<text x="337.30" y="444.20" font-size="5.0" text-anchor="middle" font-weight="normal" fill="#161616"  stroke="#161616" stroke-width="0.18">Total</text>
<rect x="292.00" y="355.80" width="13.20" height="0.6" fill="#555"/>
<text x="292.00" y="356.80" font-size="5.4" text-anchor="start" font-weight="bold" fill="#000"  stroke="#000" stroke-width="0.18">**</text>
<rect x="292.00" y="363.21" width="7.20" height="0.6" fill="#555"/>
<text x="292.00" y="364.21" font-size="5.4" text-anchor="start" font-weight="bold" fill="#000"  stroke="#000" stroke-width="0.18">**</text>
<rect x="298.00" y="371.73" width="7.20" height="0.6" fill="#555"/>
<text x="298.00" y="372.73" font-size="5.4" text-anchor="start" font-weight="bold" fill="#000"  stroke="#000" stroke-width="0.18">**</text>
<text x="310.50" y="412.81" font-size="5.0" text-anchor="middle" font-weight="bold" fill="#111"  stroke="#111" stroke-width="0.18">#*</text>
<rect x="123.20" y="219.6" width="6.3" height="6.3" fill="#141414" stroke="#111" stroke-width="0.9"/>
<text x="132.90" y="224.90" font-size="5.0" text-anchor="start" font-weight="bold" fill="#1a1a1a"  stroke="#1a1a1a" stroke-width="0.18">Iso-Ig</text>
<rect x="154.00" y="219.6" width="6.3" height="6.3" fill="#9a9a9a" stroke="#111" stroke-width="0.9"/>
<text x="163.80" y="224.90" font-size="5.0" text-anchor="start" font-weight="bold" fill="#1a1a1a"  stroke="#1a1a1a" stroke-width="0.18">Ibr</text>
<rect x="185.60" y="219.6" width="6.3" height="6.3" fill="#c8202e" stroke="#111" stroke-width="0.9"/>
<text x="194.80" y="224.90" font-size="5.0" text-anchor="start" font-weight="bold" fill="#1a1a1a"  stroke="#1a1a1a" stroke-width="0.18">Dara</text>
<rect x="216.50" y="219.6" width="6.3" height="6.3" fill="white" stroke="#111" stroke-width="0.9"/>
<text x="226.90" y="224.90" font-size="5.0" text-anchor="start" font-weight="bold" fill="#1a1a1a"  stroke="#1a1a1a" stroke-width="0.18">Ibr + Dara (ID)</text>
<text x="394.20" y="33.30" font-size="12.4" text-anchor="start" font-weight="bold" fill="#0c0c0c" stroke="#0c0c0c" stroke-width="0.1">G</text>
<text x="468.80" y="35.60" font-size="5.3" text-anchor="middle" font-weight="bold" fill="#1e1e1e"  stroke="#1e1e1e" stroke-width="0.22">CD38<tspan font-size="2.8" dy="-1.5">+</tspan><tspan dy="1.5"> CLL Pt. 9</tspan></text>
<text x="418.60" y="44.40" font-size="4.95" text-anchor="end" font-weight="bold" fill="#1e1e1e"  stroke="#1e1e1e" stroke-width="0.18">&#945;-IgM (10 &#956;g/mL)</text>
<rect x="427.40" y="41.90" width="2.2" height="0.8" fill="#1a1a1a"/><rect x="428.10" y="41.20" width="0.8" height="2.2" fill="#1a1a1a"/>
<rect x="438.20" y="41.90" width="2.2" height="0.8" fill="#1a1a1a"/><rect x="438.90" y="41.20" width="0.8" height="2.2" fill="#1a1a1a"/>
<rect x="449.50" y="41.90" width="2.2" height="0.8" fill="#1a1a1a"/><rect x="450.20" y="41.20" width="0.8" height="2.2" fill="#1a1a1a"/>
<rect x="460.10" y="41.90" width="2.2" height="0.8" fill="#1a1a1a"/><rect x="460.80" y="41.20" width="0.8" height="2.2" fill="#1a1a1a"/>
<rect x="476.40" y="41.95" width="2.4" height="0.7" fill="#2a2a2a"/>
<rect x="487.60" y="41.95" width="2.4" height="0.7" fill="#2a2a2a"/>
<rect x="498.30" y="41.95" width="2.4" height="0.7" fill="#2a2a2a"/>
<rect x="509.70" y="41.95" width="2.4" height="0.7" fill="#2a2a2a"/>
<text x="418.60" y="51.40" font-size="4.95" text-anchor="end" font-weight="bold" fill="#1e1e1e"  stroke="#1e1e1e" stroke-width="0.18">Ibr (1 &#956;mol/L)</text>
<rect x="427.30" y="50.25" width="2.4" height="0.7" fill="#2a2a2a"/>
<rect x="438.20" y="50.20" width="2.2" height="0.8" fill="#1a1a1a"/><rect x="438.90" y="49.50" width="0.8" height="2.2" fill="#1a1a1a"/>
<rect x="449.40" y="50.25" width="2.4" height="0.7" fill="#2a2a2a"/>
<rect x="460.10" y="50.20" width="2.2" height="0.8" fill="#1a1a1a"/><rect x="460.80" y="49.50" width="0.8" height="2.2" fill="#1a1a1a"/>
<rect x="476.40" y="50.25" width="2.4" height="0.7" fill="#2a2a2a"/>
<rect x="487.70" y="50.20" width="2.2" height="0.8" fill="#1a1a1a"/><rect x="488.40" y="49.50" width="0.8" height="2.2" fill="#1a1a1a"/>
<rect x="498.30" y="50.25" width="2.4" height="0.7" fill="#2a2a2a"/>
<rect x="509.80" y="50.20" width="2.2" height="0.8" fill="#1a1a1a"/><rect x="510.50" y="49.50" width="0.8" height="2.2" fill="#1a1a1a"/>
<text x="418.60" y="58.10" font-size="4.95" text-anchor="end" font-weight="bold" fill="#1e1e1e"  stroke="#1e1e1e" stroke-width="0.18">Dara (1 &#956;g/mL)</text>
<rect x="427.30" y="57.35" width="2.4" height="0.7" fill="#2a2a2a"/>
<rect x="438.10" y="57.35" width="2.4" height="0.7" fill="#2a2a2a"/>
<rect x="449.50" y="57.30" width="2.2" height="0.8" fill="#1a1a1a"/><rect x="450.20" y="56.60" width="0.8" height="2.2" fill="#1a1a1a"/>
<rect x="460.10" y="57.30" width="2.2" height="0.8" fill="#1a1a1a"/><rect x="460.80" y="56.60" width="0.8" height="2.2" fill="#1a1a1a"/>
<rect x="476.40" y="57.35" width="2.4" height="0.7" fill="#2a2a2a"/>
<rect x="487.60" y="57.35" width="2.4" height="0.7" fill="#2a2a2a"/>
<rect x="498.40" y="57.30" width="2.2" height="0.8" fill="#1a1a1a"/><rect x="499.10" y="56.60" width="0.8" height="2.2" fill="#1a1a1a"/>
<rect x="509.80" y="57.30" width="2.2" height="0.8" fill="#1a1a1a"/><rect x="510.50" y="56.60" width="0.8" height="2.2" fill="#1a1a1a"/>
<text x="418.6" y="69.40" font-size="5.1" text-anchor="end" font-weight="bold" fill="#1e1e1e" stroke="#1e1e1e" stroke-width="0.18">p-Lyn<tspan font-size="3.3" dy="-1.9">Y507</tspan></text>
<text x="418.60" y="79.10" font-size="5.1" text-anchor="end" font-weight="bold" fill="#1e1e1e"  stroke="#1e1e1e" stroke-width="0.18">Lyn</text>
<text x="418.6" y="88.50" font-size="5.1" text-anchor="end" font-weight="bold" fill="#1e1e1e" stroke="#1e1e1e" stroke-width="0.18">p-Syk<tspan font-size="3.3" dy="-1.9">Y525</tspan></text>
<text x="418.60" y="98.40" font-size="5.1" text-anchor="end" font-weight="bold" fill="#1e1e1e"  stroke="#1e1e1e" stroke-width="0.18">Syk</text>
<text x="418.6" y="108.00" font-size="5.1" text-anchor="end" font-weight="bold" fill="#1e1e1e" stroke="#1e1e1e" stroke-width="0.18">p-BTK<tspan font-size="3.3" dy="-1.9">Y223</tspan></text>
<text x="418.60" y="117.70" font-size="5.1" text-anchor="end" font-weight="bold" fill="#1e1e1e"  stroke="#1e1e1e" stroke-width="0.18">BTK</text>
<text x="418.6" y="124.90" font-size="5.1" text-anchor="end" font-weight="bold" fill="#1e1e1e" stroke="#1e1e1e" stroke-width="0.18">p-PLC&#947;2<tspan font-size="3.3" dy="-1.9">Y1217</tspan></text>
<text x="418.60" y="134.30" font-size="5.1" text-anchor="end" font-weight="bold" fill="#1e1e1e"  stroke="#1e1e1e" stroke-width="0.18">PLC&#947;2</text>
<text x="418.6" y="146.70" font-size="5.1" text-anchor="end" font-weight="bold" fill="#1e1e1e" stroke="#1e1e1e" stroke-width="0.18">p-ERK1/2<tspan font-size="3.3" dy="-1.9">T202/Y204</tspan></text>
<text x="418.60" y="156.70" font-size="5.1" text-anchor="end" font-weight="bold" fill="#1e1e1e"  stroke="#1e1e1e" stroke-width="0.18">ERK1/2</text>
<text x="418.6" y="168.30" font-size="5.1" text-anchor="end" font-weight="bold" fill="#1e1e1e" stroke="#1e1e1e" stroke-width="0.18">p-AKT<tspan font-size="3.3" dy="-1.9">S473</tspan></text>
<text x="418.60" y="179.10" font-size="5.1" text-anchor="end" font-weight="bold" fill="#1e1e1e"  stroke="#1e1e1e" stroke-width="0.18">AKT</text>
<text x="418.60" y="189.40" font-size="5.1" text-anchor="end" font-weight="bold" fill="#1e1e1e"  stroke="#1e1e1e" stroke-width="0.18">GAPDH</text>
<rect x="423.0" y="62.00" width="96.0" height="126.80" fill="#f0f0f3"/>
<rect x="423.0" y="62.00" width="96.0" height="10.20" fill="#d3d1dd"/>
<rect x="423.0" y="71.50" width="96.0" height="0.7" fill="#6e6c76"/>
<rect x="424.80" y="65.75" width="9.2" height="2.50" rx="1.0" fill="rgb(36,36,40)"/>
<rect x="435.70" y="65.75" width="9.2" height="2.50" rx="1.0" fill="rgb(36,36,40)"/>
<rect x="446.50" y="65.75" width="9.2" height="2.50" rx="1.0" fill="rgb(36,36,40)"/>
<rect x="457.60" y="65.75" width="9.2" height="2.50" rx="1.0" fill="rgb(136,136,140)"/>
<rect x="473.80" y="65.75" width="9.2" height="2.50" rx="1.0" fill="rgb(36,36,40)"/>
<rect x="485.50" y="65.75" width="9.2" height="2.50" rx="1.0" fill="rgb(41,41,45)"/>
<rect x="497.10" y="65.75" width="9.2" height="2.50" rx="1.0" fill="rgb(41,41,45)"/>
<rect x="508.40" y="65.75" width="9.2" height="2.50" rx="1.0" fill="rgb(94,94,98)"/>
<rect x="423.0" y="72.90" width="96.0" height="8.30" fill="#d3d1dd"/>
<rect x="423.0" y="80.50" width="96.0" height="0.7" fill="#6e6c76"/>
<rect x="424.80" y="76.35" width="9.2" height="2.50" rx="1.0" fill="rgb(30,30,34)"/>
<rect x="435.70" y="76.35" width="9.2" height="2.50" rx="1.0" fill="rgb(30,30,34)"/>
<rect x="446.50" y="76.35" width="9.2" height="2.50" rx="1.0" fill="rgb(30,30,34)"/>
<rect x="457.60" y="76.35" width="9.2" height="2.50" rx="1.0" fill="rgb(51,51,55)"/>
<rect x="473.80" y="76.35" width="9.2" height="2.50" rx="1.0" fill="rgb(30,30,34)"/>
<rect x="485.50" y="76.35" width="9.2" height="2.50" rx="1.0" fill="rgb(30,30,34)"/>
<rect x="497.10" y="76.35" width="9.2" height="2.50" rx="1.0" fill="rgb(30,30,34)"/>
<rect x="508.40" y="76.35" width="9.2" height="2.50" rx="1.0" fill="rgb(36,36,40)"/>
<rect x="423.0" y="81.80" width="96.0" height="9.70" fill="#d3d1dd"/>
<rect x="423.0" y="90.80" width="96.0" height="0.7" fill="#6e6c76"/>
<rect x="424.80" y="85.95" width="9.2" height="2.50" rx="1.0" fill="rgb(36,36,40)"/>
<rect x="435.70" y="85.95" width="9.2" height="2.50" rx="1.0" fill="rgb(45,45,49)"/>
<rect x="446.50" y="85.95" width="9.2" height="2.50" rx="1.0" fill="rgb(45,45,49)"/>
<rect x="457.60" y="85.95" width="9.2" height="2.50" rx="1.0" fill="rgb(223,223,227)"/>
<rect x="473.80" y="85.95" width="9.2" height="2.50" rx="1.0" fill="rgb(41,41,45)"/>
<rect x="485.50" y="85.95" width="9.2" height="2.50" rx="1.0" fill="rgb(62,62,66)"/>
<rect x="497.10" y="85.95" width="9.2" height="2.50" rx="1.0" fill="rgb(51,51,55)"/>
<rect x="508.40" y="85.95" width="9.2" height="2.50" rx="1.0" fill="rgb(157,157,161)"/>
<rect x="423.0" y="92.20" width="96.0" height="7.80" fill="#d3d1dd"/>
<rect x="423.0" y="99.30" width="96.0" height="0.7" fill="#6e6c76"/>
<rect x="424.80" y="94.55" width="9.2" height="2.50" rx="1.0" fill="rgb(41,41,45)"/>
<rect x="435.70" y="94.55" width="9.2" height="2.50" rx="1.0" fill="rgb(41,41,45)"/>
<rect x="446.50" y="94.55" width="9.2" height="2.50" rx="1.0" fill="rgb(41,41,45)"/>
<rect x="457.60" y="94.55" width="9.2" height="2.50" rx="1.0" fill="rgb(45,45,49)"/>
<rect x="473.80" y="94.55" width="9.2" height="2.50" rx="1.0" fill="rgb(41,41,45)"/>
<rect x="485.50" y="94.55" width="9.2" height="2.50" rx="1.0" fill="rgb(45,45,49)"/>
<rect x="497.10" y="94.55" width="9.2" height="2.50" rx="1.0" fill="rgb(45,45,49)"/>
<rect x="508.40" y="94.55" width="9.2" height="2.50" rx="1.0" fill="rgb(45,45,49)"/>
<rect x="423.0" y="100.70" width="96.0" height="8.70" fill="#d3d1dd"/>
<rect x="423.0" y="108.70" width="96.0" height="0.7" fill="#6e6c76"/>
<rect x="424.80" y="104.00" width="9.2" height="2.40" rx="1.0" fill="rgb(51,51,55)"/>
<rect x="435.70" y="104.00" width="9.2" height="2.40" rx="1.0" fill="rgb(83,83,87)"/>
<rect x="446.50" y="104.00" width="9.2" height="2.40" rx="1.0" fill="rgb(83,83,87)"/>
<rect x="457.60" y="104.00" width="9.2" height="2.40" rx="1.0" fill="rgb(189,189,193)"/>
<rect x="473.80" y="104.00" width="9.2" height="2.40" rx="1.0" fill="rgb(62,62,66)"/>
<rect x="485.50" y="104.00" width="9.2" height="2.40" rx="1.0" fill="rgb(62,62,66)"/>
<rect x="497.10" y="104.00" width="9.2" height="2.40" rx="1.0" fill="rgb(73,73,77)"/>
<rect x="508.40" y="104.00" width="9.2" height="2.40" rx="1.0" fill="rgb(126,126,130)"/>
<rect x="423.0" y="110.10" width="96.0" height="8.20" fill="#d3d1dd"/>
<rect x="423.0" y="117.60" width="96.0" height="0.7" fill="#6e6c76"/>
<rect x="424.80" y="113.40" width="9.2" height="2.40" rx="1.0" fill="rgb(51,51,55)"/>
<rect x="435.70" y="113.40" width="9.2" height="2.40" rx="1.0" fill="rgb(51,51,55)"/>
<rect x="446.50" y="113.40" width="9.2" height="2.40" rx="1.0" fill="rgb(51,51,55)"/>
<rect x="457.60" y="113.40" width="9.2" height="2.40" rx="1.0" fill="rgb(51,51,55)"/>
<rect x="473.80" y="113.40" width="9.2" height="2.40" rx="1.0" fill="rgb(51,51,55)"/>
<rect x="485.50" y="113.40" width="9.2" height="2.40" rx="1.0" fill="rgb(51,51,55)"/>
<rect x="497.10" y="113.40" width="9.2" height="2.40" rx="1.0" fill="rgb(51,51,55)"/>
<rect x="508.40" y="113.40" width="9.2" height="2.40" rx="1.0" fill="rgb(51,51,55)"/>
<rect x="423.0" y="119.00" width="96.0" height="8.30" fill="#d3d1dd"/>
<rect x="423.0" y="126.60" width="96.0" height="0.7" fill="#6e6c76"/>
<rect x="424.80" y="121.30" width="9.2" height="2.40" rx="1.0" fill="rgb(51,51,55)"/>
<rect x="435.70" y="121.30" width="9.2" height="2.40" rx="1.0" fill="rgb(51,51,55)"/>
<rect x="446.50" y="121.30" width="9.2" height="2.40" rx="1.0" fill="rgb(62,62,66)"/>
<rect x="457.60" y="121.30" width="9.2" height="2.40" rx="1.0" fill="rgb(168,168,172)"/>
<rect x="473.80" y="121.30" width="9.2" height="2.40" rx="1.0" fill="rgb(62,62,66)"/>
<rect x="485.50" y="121.30" width="9.2" height="2.40" rx="1.0" fill="rgb(94,94,98)"/>
<rect x="497.10" y="121.30" width="9.2" height="2.40" rx="1.0" fill="rgb(73,73,77)"/>
<rect x="508.40" y="121.30" width="9.2" height="2.40" rx="1.0" fill="rgb(147,147,151)"/>
<rect x="423.0" y="128.00" width="96.0" height="8.40" fill="#d3d1dd"/>
<rect x="423.0" y="135.70" width="96.0" height="0.7" fill="#6e6c76"/>
<rect x="424.80" y="130.45" width="9.2" height="2.30" rx="1.0" fill="rgb(83,83,87)"/>
<rect x="435.70" y="130.45" width="9.2" height="2.30" rx="1.0" fill="rgb(83,83,87)"/>
<rect x="446.50" y="130.45" width="9.2" height="2.30" rx="1.0" fill="rgb(83,83,87)"/>
<rect x="457.60" y="130.45" width="9.2" height="2.30" rx="1.0" fill="rgb(79,79,83)"/>
<rect x="473.80" y="130.45" width="9.2" height="2.30" rx="1.0" fill="rgb(73,73,77)"/>
<rect x="485.50" y="130.45" width="9.2" height="2.30" rx="1.0" fill="rgb(73,73,77)"/>
<rect x="497.10" y="130.45" width="9.2" height="2.30" rx="1.0" fill="rgb(73,73,77)"/>
<rect x="508.40" y="130.45" width="9.2" height="2.30" rx="1.0" fill="rgb(73,73,77)"/>
<rect x="423.0" y="137.10" width="96.0" height="11.30" fill="#d3d1dd"/>
<rect x="423.0" y="147.70" width="96.0" height="0.7" fill="#6e6c76"/>
<rect x="424.80" y="140.70" width="9.2" height="3.60" rx="1.0" fill="rgb(20,20,24)"/>
<rect x="435.70" y="140.70" width="9.2" height="3.60" rx="1.0" fill="rgb(30,30,34)"/>
<rect x="446.50" y="140.70" width="9.2" height="3.60" rx="1.0" fill="rgb(30,30,34)"/>
<rect x="457.60" y="140.70" width="9.2" height="3.60" rx="1.0" fill="rgb(115,115,119)"/>
<rect x="473.80" y="140.70" width="9.2" height="3.60" rx="1.0" fill="rgb(20,20,24)"/>
<rect x="485.50" y="140.70" width="9.2" height="3.60" rx="1.0" fill="rgb(36,36,40)"/>
<rect x="497.10" y="140.70" width="9.2" height="3.60" rx="1.0" fill="rgb(36,36,40)"/>
<rect x="508.40" y="140.70" width="9.2" height="3.60" rx="1.0" fill="rgb(83,83,87)"/>
<rect x="423.0" y="149.00" width="96.0" height="9.90" fill="#d3d1dd"/>
<rect x="423.0" y="158.20" width="96.0" height="0.7" fill="#6e6c76"/>
<rect x="424.80" y="152.20" width="9.2" height="3.60" rx="1.0" fill="rgb(20,20,24)"/>
<rect x="435.70" y="152.20" width="9.2" height="3.60" rx="1.0" fill="rgb(20,20,24)"/>
<rect x="446.50" y="152.20" width="9.2" height="3.60" rx="1.0" fill="rgb(20,20,24)"/>
<rect x="457.60" y="152.20" width="9.2" height="3.60" rx="1.0" fill="rgb(20,20,24)"/>
<rect x="473.80" y="152.20" width="9.2" height="3.60" rx="1.0" fill="rgb(20,20,24)"/>
<rect x="485.50" y="152.20" width="9.2" height="3.60" rx="1.0" fill="rgb(30,30,34)"/>
<rect x="497.10" y="152.20" width="9.2" height="3.60" rx="1.0" fill="rgb(30,30,34)"/>
<rect x="508.40" y="152.20" width="9.2" height="3.60" rx="1.0" fill="rgb(30,30,34)"/>
<rect x="423.0" y="159.50" width="96.0" height="12.10" fill="#d3d1dd"/>
<rect x="423.0" y="170.90" width="96.0" height="0.7" fill="#6e6c76"/>
<rect x="424.80" y="164.60" width="9.2" height="2.40" rx="1.0" fill="rgb(51,51,55)"/>
<rect x="435.70" y="164.60" width="9.2" height="2.40" rx="1.0" fill="rgb(41,41,45)"/>
<rect x="446.50" y="164.60" width="9.2" height="2.40" rx="1.0" fill="rgb(73,73,77)"/>
<rect x="457.60" y="164.60" width="9.2" height="2.40" rx="1.0" fill="rgb(157,157,161)"/>
<rect x="473.80" y="164.60" width="9.2" height="2.40" rx="1.0" fill="rgb(73,73,77)"/>
<rect x="485.50" y="164.60" width="9.2" height="2.40" rx="1.0" fill="rgb(51,51,55)"/>
<rect x="497.10" y="164.60" width="9.2" height="2.40" rx="1.0" fill="rgb(51,51,55)"/>
<rect x="508.40" y="164.60" width="9.2" height="2.40" rx="1.0" fill="rgb(62,62,66)"/>
<rect x="423.0" y="172.20" width="96.0" height="7.90" fill="#d3d1dd"/>
<rect x="423.0" y="179.40" width="96.0" height="0.7" fill="#6e6c76"/>
<rect x="424.80" y="174.60" width="9.2" height="2.40" rx="1.0" fill="rgb(62,62,66)"/>
<rect x="435.70" y="174.60" width="9.2" height="2.40" rx="1.0" fill="rgb(62,62,66)"/>
<rect x="446.50" y="174.60" width="9.2" height="2.40" rx="1.0" fill="rgb(62,62,66)"/>
<rect x="457.60" y="174.60" width="9.2" height="2.40" rx="1.0" fill="rgb(62,62,66)"/>
<rect x="473.80" y="174.60" width="9.2" height="2.40" rx="1.0" fill="rgb(51,51,55)"/>
<rect x="485.50" y="174.60" width="9.2" height="2.40" rx="1.0" fill="rgb(62,62,66)"/>
<rect x="497.10" y="174.60" width="9.2" height="2.40" rx="1.0" fill="rgb(73,73,77)"/>
<rect x="508.40" y="174.60" width="9.2" height="2.40" rx="1.0" fill="rgb(73,73,77)"/>
<rect x="423.0" y="180.70" width="96.0" height="8.10" fill="#d3d1dd"/>
<rect x="423.0" y="188.10" width="96.0" height="0.7" fill="#6e6c76"/>
<rect x="424.80" y="184.25" width="9.2" height="2.50" rx="1.0" fill="rgb(36,36,40)"/>
<rect x="435.70" y="184.25" width="9.2" height="2.50" rx="1.0" fill="rgb(36,36,40)"/>
<rect x="446.50" y="184.25" width="9.2" height="2.50" rx="1.0" fill="rgb(36,36,40)"/>
<rect x="457.60" y="184.25" width="9.2" height="2.50" rx="1.0" fill="rgb(36,36,40)"/>
<rect x="473.80" y="184.25" width="9.2" height="2.50" rx="1.0" fill="rgb(36,36,40)"/>
<rect x="485.50" y="184.25" width="9.2" height="2.50" rx="1.0" fill="rgb(36,36,40)"/>
<rect x="497.10" y="184.25" width="9.2" height="2.50" rx="1.0" fill="rgb(36,36,40)"/>
<rect x="508.40" y="184.25" width="9.2" height="2.50" rx="1.0" fill="rgb(36,36,40)"/>
<rect x="469.0" y="62.00" width="1" height="126.80" fill="#2a2a2a"/>
<text x="397.20" y="266.50" font-size="12.4" text-anchor="start" font-weight="bold" fill="#0c0c0c" stroke="#0c0c0c" stroke-width="0.1">N</text>
<text x="468.80" y="268.00" font-size="5.3" text-anchor="middle" font-weight="bold" fill="#1e1e1e"  stroke="#1e1e1e" stroke-width="0.22">CD38<tspan font-size="2.8" dy="-1.5">&#8722;</tspan><tspan dy="1.5"> CLL Pt. 8</tspan></text>
<text x="418.60" y="277.70" font-size="4.95" text-anchor="end" font-weight="bold" fill="#1e1e1e"  stroke="#1e1e1e" stroke-width="0.18">&#945;-IgM (10 &#956;g/mL)</text>
<rect x="427.40" y="275.90" width="2.2" height="0.8" fill="#1a1a1a"/><rect x="428.10" y="275.20" width="0.8" height="2.2" fill="#1a1a1a"/>
<rect x="438.20" y="275.90" width="2.2" height="0.8" fill="#1a1a1a"/><rect x="438.90" y="275.20" width="0.8" height="2.2" fill="#1a1a1a"/>
<rect x="449.50" y="275.90" width="2.2" height="0.8" fill="#1a1a1a"/><rect x="450.20" y="275.20" width="0.8" height="2.2" fill="#1a1a1a"/>
<rect x="460.10" y="275.90" width="2.2" height="0.8" fill="#1a1a1a"/><rect x="460.80" y="275.20" width="0.8" height="2.2" fill="#1a1a1a"/>
<rect x="476.40" y="275.95" width="2.4" height="0.7" fill="#2a2a2a"/>
<rect x="487.60" y="275.95" width="2.4" height="0.7" fill="#2a2a2a"/>
<rect x="498.30" y="275.95" width="2.4" height="0.7" fill="#2a2a2a"/>
<rect x="509.70" y="275.95" width="2.4" height="0.7" fill="#2a2a2a"/>
<text x="418.60" y="284.40" font-size="4.95" text-anchor="end" font-weight="bold" fill="#1e1e1e"  stroke="#1e1e1e" stroke-width="0.18">Ibr (1 &#956;mol/L)</text>
<rect x="427.30" y="282.95" width="2.4" height="0.7" fill="#2a2a2a"/>
<rect x="438.20" y="282.90" width="2.2" height="0.8" fill="#1a1a1a"/><rect x="438.90" y="282.20" width="0.8" height="2.2" fill="#1a1a1a"/>
<rect x="449.40" y="282.95" width="2.4" height="0.7" fill="#2a2a2a"/>
<rect x="460.10" y="282.90" width="2.2" height="0.8" fill="#1a1a1a"/><rect x="460.80" y="282.20" width="0.8" height="2.2" fill="#1a1a1a"/>
<rect x="476.40" y="282.95" width="2.4" height="0.7" fill="#2a2a2a"/>
<rect x="487.70" y="282.90" width="2.2" height="0.8" fill="#1a1a1a"/><rect x="488.40" y="282.20" width="0.8" height="2.2" fill="#1a1a1a"/>
<rect x="498.30" y="282.95" width="2.4" height="0.7" fill="#2a2a2a"/>
<rect x="509.80" y="282.90" width="2.2" height="0.8" fill="#1a1a1a"/><rect x="510.50" y="282.20" width="0.8" height="2.2" fill="#1a1a1a"/>
<text x="418.60" y="291.10" font-size="4.95" text-anchor="end" font-weight="bold" fill="#1e1e1e"  stroke="#1e1e1e" stroke-width="0.18">Dara (1 &#956;g/mL)</text>
<rect x="427.30" y="289.65" width="2.4" height="0.7" fill="#2a2a2a"/>
<rect x="438.10" y="289.65" width="2.4" height="0.7" fill="#2a2a2a"/>
<rect x="449.50" y="289.60" width="2.2" height="0.8" fill="#1a1a1a"/><rect x="450.20" y="288.90" width="0.8" height="2.2" fill="#1a1a1a"/>
<rect x="460.10" y="289.60" width="2.2" height="0.8" fill="#1a1a1a"/><rect x="460.80" y="288.90" width="0.8" height="2.2" fill="#1a1a1a"/>
<rect x="476.40" y="289.65" width="2.4" height="0.7" fill="#2a2a2a"/>
<rect x="487.60" y="289.65" width="2.4" height="0.7" fill="#2a2a2a"/>
<rect x="498.40" y="289.60" width="2.2" height="0.8" fill="#1a1a1a"/><rect x="499.10" y="288.90" width="0.8" height="2.2" fill="#1a1a1a"/>
<rect x="509.80" y="289.60" width="2.2" height="0.8" fill="#1a1a1a"/><rect x="510.50" y="288.90" width="0.8" height="2.2" fill="#1a1a1a"/>
<text x="418.6" y="301.90" font-size="5.1" text-anchor="end" font-weight="bold" fill="#1e1e1e" stroke="#1e1e1e" stroke-width="0.18">p-Lyn<tspan font-size="3.3" dy="-1.9">Y507</tspan></text>
<text x="418.60" y="312.00" font-size="5.1" text-anchor="end" font-weight="bold" fill="#1e1e1e"  stroke="#1e1e1e" stroke-width="0.18">Lyn</text>
<text x="418.6" y="321.40" font-size="5.1" text-anchor="end" font-weight="bold" fill="#1e1e1e" stroke="#1e1e1e" stroke-width="0.18">p-Syk<tspan font-size="3.3" dy="-1.9">Y525</tspan></text>
<text x="418.60" y="331.20" font-size="5.1" text-anchor="end" font-weight="bold" fill="#1e1e1e"  stroke="#1e1e1e" stroke-width="0.18">Syk</text>
<text x="418.6" y="342.00" font-size="5.1" text-anchor="end" font-weight="bold" fill="#1e1e1e" stroke="#1e1e1e" stroke-width="0.18">p-BTK<tspan font-size="3.3" dy="-1.9">Y223</tspan></text>
<text x="418.60" y="350.40" font-size="5.1" text-anchor="end" font-weight="bold" fill="#1e1e1e"  stroke="#1e1e1e" stroke-width="0.18">BTK</text>
<text x="418.6" y="357.80" font-size="5.1" text-anchor="end" font-weight="bold" fill="#1e1e1e" stroke="#1e1e1e" stroke-width="0.18">p-PLC&#947;2<tspan font-size="3.3" dy="-1.9">Y1217</tspan></text>
<text x="418.60" y="367.80" font-size="5.1" text-anchor="end" font-weight="bold" fill="#1e1e1e"  stroke="#1e1e1e" stroke-width="0.18">PLC&#947;2</text>
<text x="418.6" y="378.20" font-size="5.1" text-anchor="end" font-weight="bold" fill="#1e1e1e" stroke="#1e1e1e" stroke-width="0.18">p-ERK1/2<tspan font-size="3.3" dy="-1.9">T202/Y204</tspan></text>
<text x="418.60" y="389.00" font-size="5.1" text-anchor="end" font-weight="bold" fill="#1e1e1e"  stroke="#1e1e1e" stroke-width="0.18">ERK1/2</text>
<text x="418.6" y="401.00" font-size="5.1" text-anchor="end" font-weight="bold" fill="#1e1e1e" stroke="#1e1e1e" stroke-width="0.18">p-AKT<tspan font-size="3.3" dy="-1.9">S473</tspan></text>
<text x="418.60" y="410.70" font-size="5.1" text-anchor="end" font-weight="bold" fill="#1e1e1e"  stroke="#1e1e1e" stroke-width="0.18">AKT</text>
<text x="418.60" y="421.40" font-size="5.1" text-anchor="end" font-weight="bold" fill="#1e1e1e"  stroke="#1e1e1e" stroke-width="0.18">GAPDH</text>
<rect x="423.0" y="295.20" width="96.0" height="126.50" fill="#f0f0f3"/>
<rect x="423.0" y="295.20" width="96.0" height="9.90" fill="#d3d1dd"/>
<rect x="423.0" y="304.40" width="96.0" height="0.7" fill="#6e6c76"/>
<rect x="424.80" y="297.50" width="9.2" height="2.60" rx="1.0" fill="rgb(104,104,108)"/>
<rect x="435.70" y="297.50" width="9.2" height="2.60" rx="1.0" fill="rgb(104,104,108)"/>
<rect x="446.50" y="297.50" width="9.2" height="2.60" rx="1.0" fill="rgb(115,115,119)"/>
<rect x="457.60" y="297.50" width="9.2" height="2.60" rx="1.0" fill="rgb(126,126,130)"/>
<rect x="473.80" y="297.50" width="9.2" height="2.60" rx="1.0" fill="rgb(104,104,108)"/>
<rect x="485.50" y="297.50" width="9.2" height="2.60" rx="1.0" fill="rgb(115,115,119)"/>
<rect x="497.10" y="297.50" width="9.2" height="2.60" rx="1.0" fill="rgb(104,104,108)"/>
<rect x="508.40" y="297.50" width="9.2" height="2.60" rx="1.0" fill="rgb(104,104,108)"/>
<rect x="423.0" y="305.60" width="96.0" height="8.30" fill="#d3d1dd"/>
<rect x="423.0" y="313.20" width="96.0" height="0.7" fill="#6e6c76"/>
<rect x="424.80" y="308.40" width="9.2" height="2.40" rx="1.0" fill="rgb(30,30,34)"/>
<rect x="435.70" y="308.40" width="9.2" height="2.40" rx="1.0" fill="rgb(36,36,40)"/>
<rect x="446.50" y="308.40" width="9.2" height="2.40" rx="1.0" fill="rgb(36,36,40)"/>
<rect x="457.60" y="308.40" width="9.2" height="2.40" rx="1.0" fill="rgb(36,36,40)"/>
<rect x="473.80" y="308.40" width="9.2" height="2.40" rx="1.0" fill="rgb(30,30,34)"/>
<rect x="485.50" y="308.40" width="9.2" height="2.40" rx="1.0" fill="rgb(36,36,40)"/>
<rect x="497.10" y="308.40" width="9.2" height="2.40" rx="1.0" fill="rgb(36,36,40)"/>
<rect x="508.40" y="308.40" width="9.2" height="2.40" rx="1.0" fill="rgb(36,36,40)"/>
<rect x="423.0" y="314.50" width="96.0" height="9.50" fill="#d3d1dd"/>
<rect x="423.0" y="323.30" width="96.0" height="0.7" fill="#6e6c76"/>
<rect x="424.80" y="317.30" width="9.2" height="3.00" rx="1.0" fill="rgb(104,104,108)"/>
<rect x="435.70" y="317.30" width="9.2" height="3.00" rx="1.0" fill="rgb(115,115,119)"/>
<rect x="446.50" y="317.30" width="9.2" height="3.00" rx="1.0" fill="rgb(157,157,161)"/>
<rect x="457.60" y="317.30" width="9.2" height="3.00" rx="1.0" fill="rgb(223,223,227)"/>
<rect x="473.80" y="317.30" width="9.2" height="3.00" rx="1.0" fill="rgb(185,185,189)"/>
<rect x="485.50" y="317.30" width="9.2" height="3.00" rx="1.0" fill="rgb(185,185,189)"/>
<rect x="497.10" y="317.30" width="9.2" height="3.00" rx="1.0" fill="rgb(185,185,189)"/>
<rect x="508.40" y="317.30" width="9.2" height="3.00" rx="1.0" fill="rgb(185,185,189)"/>
<rect x="423.0" y="324.60" width="96.0" height="8.70" fill="#d3d1dd"/>
<rect x="423.0" y="332.60" width="96.0" height="0.7" fill="#6e6c76"/>
<rect x="424.80" y="327.30" width="9.2" height="3.00" rx="1.0" fill="rgb(26,26,30)"/>
<rect x="435.70" y="327.30" width="9.2" height="3.00" rx="1.0" fill="rgb(30,30,34)"/>
<rect x="446.50" y="327.30" width="9.2" height="3.00" rx="1.0" fill="rgb(36,36,40)"/>
<rect x="457.60" y="327.30" width="9.2" height="3.00" rx="1.0" fill="rgb(30,30,34)"/>
<rect x="473.80" y="327.30" width="9.2" height="3.00" rx="1.0" fill="rgb(30,30,34)"/>
<rect x="485.50" y="327.30" width="9.2" height="3.00" rx="1.0" fill="rgb(30,30,34)"/>
<rect x="497.10" y="327.30" width="9.2" height="3.00" rx="1.0" fill="rgb(30,30,34)"/>
<rect x="508.40" y="327.30" width="9.2" height="3.00" rx="1.0" fill="rgb(30,30,34)"/>
<rect x="423.0" y="333.90" width="96.0" height="8.70" fill="#d3d1dd"/>
<rect x="423.0" y="341.90" width="96.0" height="0.7" fill="#6e6c76"/>
<rect x="424.80" y="337.60" width="9.2" height="2.40" rx="1.0" fill="rgb(147,147,151)"/>
<rect x="435.70" y="337.60" width="9.2" height="2.40" rx="1.0" fill="rgb(136,136,140)"/>
<rect x="446.50" y="337.60" width="9.2" height="2.40" rx="1.0" fill="rgb(157,157,161)"/>
<rect x="457.60" y="337.60" width="9.2" height="2.40" rx="1.0" fill="rgb(200,200,204)"/>
<rect x="473.80" y="337.60" width="9.2" height="2.40" rx="1.0" fill="rgb(168,168,172)"/>
<rect x="485.50" y="337.60" width="9.2" height="2.40" rx="1.0" fill="rgb(168,168,172)"/>
<rect x="497.10" y="337.60" width="9.2" height="2.40" rx="1.0" fill="rgb(168,168,172)"/>
<rect x="508.40" y="337.60" width="9.2" height="2.40" rx="1.0" fill="rgb(168,168,172)"/>
<rect x="423.0" y="343.20" width="96.0" height="7.70" fill="#d3d1dd"/>
<rect x="423.0" y="350.20" width="96.0" height="0.7" fill="#6e6c76"/>
<rect x="424.80" y="345.30" width="9.2" height="2.40" rx="1.0" fill="rgb(45,45,49)"/>
<rect x="435.70" y="345.30" width="9.2" height="2.40" rx="1.0" fill="rgb(45,45,49)"/>
<rect x="446.50" y="345.30" width="9.2" height="2.40" rx="1.0" fill="rgb(45,45,49)"/>
<rect x="457.60" y="345.30" width="9.2" height="2.40" rx="1.0" fill="rgb(45,45,49)"/>
<rect x="473.80" y="345.30" width="9.2" height="2.40" rx="1.0" fill="rgb(45,45,49)"/>
<rect x="485.50" y="345.30" width="9.2" height="2.40" rx="1.0" fill="rgb(45,45,49)"/>
<rect x="497.10" y="345.30" width="9.2" height="2.40" rx="1.0" fill="rgb(45,45,49)"/>
<rect x="508.40" y="345.30" width="9.2" height="2.40" rx="1.0" fill="rgb(45,45,49)"/>
<rect x="423.0" y="351.50" width="96.0" height="8.60" fill="#d3d1dd"/>
<rect x="423.0" y="359.40" width="96.0" height="0.7" fill="#6e6c76"/>
<rect x="424.80" y="353.50" width="9.2" height="2.60" rx="1.0" fill="rgb(51,51,55)"/>
<rect x="435.70" y="353.50" width="9.2" height="2.60" rx="1.0" fill="rgb(73,73,77)"/>
<rect x="446.50" y="353.50" width="9.2" height="2.60" rx="1.0" fill="rgb(62,62,66)"/>
<rect x="457.60" y="353.50" width="9.2" height="2.60" rx="1.0" fill="rgb(147,147,151)"/>
<rect x="473.80" y="353.50" width="9.2" height="2.60" rx="1.0" fill="rgb(51,51,55)"/>
<rect x="485.50" y="353.50" width="9.2" height="2.60" rx="1.0" fill="rgb(51,51,55)"/>
<rect x="497.10" y="353.50" width="9.2" height="2.60" rx="1.0" fill="rgb(45,45,49)"/>
<rect x="508.40" y="353.50" width="9.2" height="2.60" rx="1.0" fill="rgb(94,94,98)"/>
<rect x="423.0" y="360.70" width="96.0" height="9.70" fill="#d3d1dd"/>
<rect x="423.0" y="369.70" width="96.0" height="0.7" fill="#6e6c76"/>
<rect x="424.80" y="364.00" width="9.2" height="2.40" rx="1.0" fill="rgb(51,51,55)"/>
<rect x="435.70" y="364.00" width="9.2" height="2.40" rx="1.0" fill="rgb(51,51,55)"/>
<rect x="446.50" y="364.00" width="9.2" height="2.40" rx="1.0" fill="rgb(51,51,55)"/>
<rect x="457.60" y="364.00" width="9.2" height="2.40" rx="1.0" fill="rgb(62,62,66)"/>
<rect x="473.80" y="364.00" width="9.2" height="2.40" rx="1.0" fill="rgb(45,45,49)"/>
<rect x="485.50" y="364.00" width="9.2" height="2.40" rx="1.0" fill="rgb(51,51,55)"/>
<rect x="497.10" y="364.00" width="9.2" height="2.40" rx="1.0" fill="rgb(51,51,55)"/>
<rect x="508.40" y="364.00" width="9.2" height="2.40" rx="1.0" fill="rgb(51,51,55)"/>
<rect x="423.0" y="371.00" width="96.0" height="9.90" fill="#d3d1dd"/>
<rect x="423.0" y="380.20" width="96.0" height="0.7" fill="#6e6c76"/>
<rect x="424.80" y="374.10" width="9.2" height="3.00" rx="1.0" fill="rgb(62,62,66)"/>
<rect x="435.70" y="374.10" width="9.2" height="3.00" rx="1.0" fill="rgb(104,104,108)"/>
<rect x="446.50" y="374.10" width="9.2" height="3.00" rx="1.0" fill="rgb(51,51,55)"/>
<rect x="457.60" y="374.10" width="9.2" height="3.00" rx="1.0" fill="rgb(126,126,130)"/>
<rect x="473.80" y="374.10" width="9.2" height="3.00" rx="1.0" fill="rgb(30,30,34)"/>
<rect x="485.50" y="374.10" width="9.2" height="3.00" rx="1.0" fill="rgb(41,41,45)"/>
<rect x="497.10" y="374.10" width="9.2" height="3.00" rx="1.0" fill="rgb(41,41,45)"/>
<rect x="508.40" y="374.10" width="9.2" height="3.00" rx="1.0" fill="rgb(73,73,77)"/>
<rect x="423.0" y="381.50" width="96.0" height="10.40" fill="#d3d1dd"/>
<rect x="423.0" y="391.20" width="96.0" height="0.7" fill="#6e6c76"/>
<rect x="424.80" y="384.10" width="9.2" height="3.40" rx="1.0" fill="rgb(26,26,30)"/>
<rect x="435.70" y="384.10" width="9.2" height="3.40" rx="1.0" fill="rgb(26,26,30)"/>
<rect x="446.50" y="384.10" width="9.2" height="3.40" rx="1.0" fill="rgb(26,26,30)"/>
<rect x="457.60" y="384.10" width="9.2" height="3.40" rx="1.0" fill="rgb(30,30,34)"/>
<rect x="473.80" y="384.10" width="9.2" height="3.40" rx="1.0" fill="rgb(36,36,40)"/>
<rect x="485.50" y="384.10" width="9.2" height="3.40" rx="1.0" fill="rgb(51,51,55)"/>
<rect x="497.10" y="384.10" width="9.2" height="3.40" rx="1.0" fill="rgb(62,62,66)"/>
<rect x="508.40" y="384.10" width="9.2" height="3.40" rx="1.0" fill="rgb(36,36,40)"/>
<rect x="423.0" y="392.50" width="96.0" height="11.80" fill="#d3d1dd"/>
<rect x="423.0" y="403.60" width="96.0" height="0.7" fill="#6e6c76"/>
<rect x="424.80" y="396.30" width="9.2" height="3.00" rx="1.0" fill="rgb(104,104,108)"/>
<rect x="435.70" y="396.30" width="9.2" height="3.00" rx="1.0" fill="rgb(136,136,140)"/>
<rect x="446.50" y="396.30" width="9.2" height="3.00" rx="1.0" fill="rgb(157,157,161)"/>
<rect x="457.60" y="396.30" width="9.2" height="3.00" rx="1.0" fill="rgb(168,168,172)"/>
<rect x="473.80" y="396.30" width="9.2" height="3.00" rx="1.0" fill="rgb(126,126,130)"/>
<rect x="485.50" y="396.30" width="9.2" height="3.00" rx="1.0" fill="rgb(100,100,104)"/>
<rect x="497.10" y="396.30" width="9.2" height="3.00" rx="1.0" fill="rgb(147,147,151)"/>
<rect x="508.40" y="396.30" width="9.2" height="3.00" rx="1.0" fill="rgb(136,136,140)"/>
<rect x="423.0" y="404.90" width="96.0" height="7.90" fill="#d3d1dd"/>
<rect x="423.0" y="412.10" width="96.0" height="0.7" fill="#6e6c76"/>
<rect x="424.80" y="407.10" width="9.2" height="2.20" rx="1.0" fill="rgb(45,45,49)"/>
<rect x="435.70" y="407.10" width="9.2" height="2.20" rx="1.0" fill="rgb(51,51,55)"/>
<rect x="446.50" y="407.10" width="9.2" height="2.20" rx="1.0" fill="rgb(94,94,98)"/>
<rect x="457.60" y="407.10" width="9.2" height="2.20" rx="1.0" fill="rgb(36,36,40)"/>
<rect x="473.80" y="407.10" width="9.2" height="2.20" rx="1.0" fill="rgb(73,73,77)"/>
<rect x="485.50" y="407.10" width="9.2" height="2.20" rx="1.0" fill="rgb(104,104,108)"/>
<rect x="497.10" y="407.10" width="9.2" height="2.20" rx="1.0" fill="rgb(73,73,77)"/>
<rect x="508.40" y="407.10" width="9.2" height="2.20" rx="1.0" fill="rgb(94,94,98)"/>
<rect x="423.0" y="413.40" width="96.0" height="8.30" fill="#d3d1dd"/>
<rect x="423.0" y="421.00" width="96.0" height="0.7" fill="#6e6c76"/>
<rect x="424.80" y="416.40" width="9.2" height="2.80" rx="1.0" fill="rgb(79,79,83)"/>
<rect x="435.70" y="416.40" width="9.2" height="2.80" rx="1.0" fill="rgb(79,79,83)"/>
<rect x="446.50" y="416.40" width="9.2" height="2.80" rx="1.0" fill="rgb(73,73,77)"/>
<rect x="457.60" y="416.40" width="9.2" height="2.80" rx="1.0" fill="rgb(62,62,66)"/>
<rect x="473.80" y="416.40" width="9.2" height="2.80" rx="1.0" fill="rgb(79,79,83)"/>
<rect x="485.50" y="416.40" width="9.2" height="2.80" rx="1.0" fill="rgb(79,79,83)"/>
<rect x="497.10" y="416.40" width="9.2" height="2.80" rx="1.0" fill="rgb(79,79,83)"/>
<rect x="508.40" y="416.40" width="9.2" height="2.80" rx="1.0" fill="rgb(83,83,87)"/>
<rect x="469.0" y="295.20" width="1" height="126.50" fill="#2a2a2a"/>
</svg>
</body></html>
